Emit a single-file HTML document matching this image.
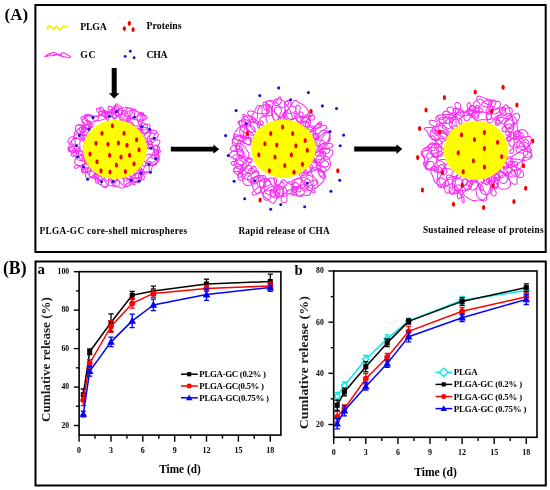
<!DOCTYPE html><html><head><meta charset="utf-8"><title>PLGA-GC core-shell microspheres</title><style>html,body{margin:0;padding:0;background:#fff;overflow:hidden;}svg{display:block;}</style></head><body>
<svg width="550" height="490" viewBox="0 0 550 490">
<rect width="550" height="490" fill="#fff"/>
<rect x="35.4" y="5" width="510.3" height="247" fill="none" stroke="#000" stroke-width="2"/>
<rect x="35.5" y="261.5" width="510.3" height="224" fill="none" stroke="#000" stroke-width="2"/>
<text x="4.6" y="20.2" font-family="'Liberation Serif', 'Times New Roman', serif" font-weight="bold" font-size="17.5" textLength="23.5" lengthAdjust="spacingAndGlyphs" >(A)</text>
<text x="3" y="274.2" font-family="'Liberation Serif', 'Times New Roman', serif" font-weight="bold" font-size="18" textLength="23.5" lengthAdjust="spacingAndGlyphs" >(B)</text>
<path d="M47.3 29.1 C48 27 49 26 49.9 26.1 C51 26.3 52.5 29 53.7 29.1 C54.8 29 55.5 26 56.4 26.1 C57.5 26.3 58.8 30 59.9 30 C61 30 62.2 26.6 63.4 26.5 L66.2 26.3" fill="none" stroke="#eef000" stroke-width="1.7" stroke-linecap="round" stroke-linejoin="round"/>
<text x="80.2" y="30.2" font-family="'Liberation Serif', 'Times New Roman', serif" font-weight="bold" font-size="9.8" textLength="26.6" lengthAdjust="spacing" >PLGA</text>
<path d="M44.5 57 C48 54 53 52 56 53 C58 54 55 56 52 55.5 C55 54.5 60 54 62 55.5 C60 53 63 52 66 54 C69 55.5 72 57 70 57.5 C66 57.5 61 56.5 58 55 C61 56 64 57.5 66 57 M44.5 57 C47 56.5 50 55.5 52 54.5" fill="none" stroke="#f832f2" stroke-width="1.1"/>
<text x="80.2" y="57.7" font-family="'Liberation Serif', 'Times New Roman', serif" font-weight="bold" font-size="9.8" textLength="15.3" lengthAdjust="spacing" >GC</text>
<ellipse cx="124.3" cy="28.6" rx="1.6" ry="2.4" fill="#f00000"/>
<ellipse cx="129.3" cy="23.5" rx="1.6" ry="2.4" fill="#f00000"/>
<ellipse cx="133.1" cy="29.7" rx="1.6" ry="2.4" fill="#f00000"/>
<text x="146.4" y="29.4" font-family="'Liberation Serif', 'Times New Roman', serif" font-weight="bold" font-size="9.8" textLength="35.2" lengthAdjust="spacing" >Proteins</text>
<circle cx="125.2" cy="56.4" r="1.45" fill="#1414d2"/>
<circle cx="130.3" cy="51.2" r="1.45" fill="#1414d2"/>
<circle cx="134.1" cy="57.7" r="1.45" fill="#1414d2"/>
<text x="146.4" y="57.7" font-family="'Liberation Serif', 'Times New Roman', serif" font-weight="bold" font-size="9.8" textLength="21.3" lengthAdjust="spacing" >CHA</text>
<path d="M111.7 68 H116.7 V93.2 H119.5 L114.2 98.4 L108.8 93.2 H111.7 Z" fill="#000"/>
<path d="M170.8 146.8 H213.4 V144.6 L219.2 149.2 L213.4 153.8 V151.6 H170.8 Z" fill="#000"/>
<path d="M354.2 146.5 H396.5 V144.2 L402.3 149 L396.5 153.9 V151.4 H354.2 Z" fill="#000"/>
<path d="M144.1 168.4l-.6 .8 -.6 .7 -.8 .7 -.9 .5 -.9 .1 -1-.1 -.8-.6 -.1-1 .4-.9 .8-.5 1-.1 .9 .5 .5 .8 0 1 -.4 .9 -.7 .7 -.9 .5 -1 .2 -.9 .4 -.8 .5 -.9 .5 -.9 .5 -.9 .4 -.9 .5 -.8 .5 -.9 .6 -.7 .7 -.3 .9 -.1 1 .2 .9 .6 .8 .9 .6 .9 .3 1 .2 1 .1 1 .3 1 .1 .9-.3 .7-.7 .4-.9 -.1-1 -.4-.9 -.8-.7 -.9-.3 -1 .1 -1 .3 -.9 .4 -.8 .6 -.8 .6 -.6 .8 -.5 .9 -.1 .9 .3 1 .7 .7 .7 .7 .9 .4 .8-.5 .1-1 -.5-.9 -.7-.7 -1-.2 -.9 0 -1 .5 -.7 .6 -.6 .8 -.3 1 -.4 .9 -.6 .8 -1 .2 -1 .1 -1-.2 -.9-.3 -.9-.4 -.8-.6 -.8-.7 -.6-.8 -.5-.8 -.7-.8 -.7-.7 -.7-.7 -.9-.5 -.8-.5 -.8-.7 -.7-.6 -.7-.8 -.4-.9 0-1 .5-.8 .8-.5 1 .3 .7 .7 .4 .9 .2 1 -.1 1 -.2 .9 -.5 .9 -.6 .8 -.7 .7 -.7 .7 -.8 .6 -1 .3 -1 0 -.9-.5 -.6-.8 -.1-.9 .3-1 .4-.9 .2-1 -.3-1 -.6-.7 -1-.1 -.9 .5 -.5 .8 -.1 1 .2 1 0 1 -.1 1 -.2 1 -.1 1 -.2 1 -.3 .9 -.4 .9 -.6 .8 -.9 .5 -1 .1 -.9-.3 -.9-.6 -.6-.8 -.6-.8 -.3-.9 -.2-1 -.4-.9 -.5-.9 -.4-.9 -.6-.9 -.7-.6 -.9-.5 -1-.2 -.9-.3 -.8-.6 -.4-.9 0-1 .3-1 .5-.8 .7-.8 .8-.5 1-.3 .9 0 1 .4 .7 .6 .7 .8 .2 .9 -.3 .9 -.9 .5 -1-.2 -.7-.7 -.2-1 .1-1 .3-.9 .4-.9 .5-.9 .9-.4 1 .2 .1 1 -.5 .8 -1 .3 -1 0 -.8-.5 -.6-.8 -.2-1 -.2-1 -.5-.9 -.8-.6 -.9-.4 -.9-.3 -1-.2 -.9-.4 -.9-.5 -.9-.4 -1-.3 -.9-.2 -1-.3 -.9-.3 -1-.4 -1-.2 -.9 0 -1 .3 -.9 .5 -.8 .6 -.8 .5 -.9 .5 -.8 .6 -.8 .6 -.9 .4 -1 .3 -1 .1 -.8-.6 .2-1 .7-.7 .9-.4 1-.2 1 .1 1 .3 .9 .4 .7 .6 .7 .7 .8 .6 .7 .7 .9 .6 .9 .4 1 0 .9-.4 .8-.6 .7-.7 .5-.9 .4-.9 .1-1 -.2-.9 -.5-.9 -.7-.7 -.8-.6 -.8-.6 -.7-.7 -.7-.8 -.5-.8 -.2-1 0-1 0-1 .1-1 .2-1 .1-1 0-1 -.6-.8 -.9-.3 -1 .1 -.9 .3 -1 .2 -1 0 -1-.2 -.9-.4 -.8-.6 -.7-.7 -.8-.7 -.8-.5 -.9-.4 -1-.4 -.9-.2 -1 0 -1 .4 -.6 .8 -.2 1 .2 .9 .7 .8 .9 .5 .9 .1 1-.3 1-.3 .9-.4 1-.2 .9-.2 1-.3 1-.3 .8-.5 .7-.7 .5-.9 .2-1 .1-1 -.3-.9 -.2-1 .1-1 .3-1 .3-.9 -.1-1 -.5-.9 -.7-.6 -1-.3 -1-.2 -1 .1 -.9 .2 -1 .3 -.9 .4 -.8 .5 -.5 .9 -.3 1 0 1 .4 .9 .7 .6 1 .2 .9-.3 .6-.8 .1-1 -.1-1 -.3-1 -.4-.9 -.2-1 -.1-1 0-1 .1-1 0-.9 .1-1 .3-1 .5-.8 .7-.7 .8-.7 .7-.7 .8-.6 .8-.7 .8-.6 .9-.4 .9-.1 1 .3 .6 .8 .3 .9 0 1 -.2 1 -.5 .9 -.8 .6 -.9 .4 -.9 .3 -1 .1 -1-.4 -.7-.6 -.7-.8 -.5-.8 -.5-.9 -.3-.9 -.1-1 .1-1 .4-.9 .8-.6 .9-.3 1-.1 1 .1 1 .1 1 .3 .9 .4 1 .1 1-.2 .9-.3 .9-.5 .8-.6 .8-.6 .9-.5 .9-.3 1-.3 1 .1 .8 .6 .4 .9 .1 .9 -.2 1 -.4 .9 -.8 .5 -1 .3 -1 .1 -1 .1 -1-.2 -.9-.4 -.7-.7 -.6-.8 -.6-.8 -.6-.8 -.6-.8 -.7-.8 -.4-.8 -.3-1 .1-1 .5-.9 .7-.7 .8-.5 .8-.6 .8-.7 .9-.4 .9-.3 1-.3 1 0 1 .1 1 0 1 .1 1 .2 1 .2 .9 .2 1 .1 1-.2 .8-.6 .5-.8 .1-1 -.3-.9 -.6-.8 -.7-.8 -.5-.8 -.4-1 0-1 .7-.6 .9 0 1 .3 .9 .3 1 .4 .9 .4 .8 .5 .9 .5 .8 .6 .6 .8 .4 .9 0 1 -.6 .8 -.9 .4 -1-.1 -.7-.7 -.2-1 .2-.9 .7-.7 .9-.4 1 .1 1 .2 .9 .4 .9 .4 1 .2 1 .2 .9 .4 1 .3 1 .1 .9-.4 .5-.8 .3-.9 .2-1 .3-1 .1-1 .2-1 .1-1 .2-.9 .1-1 .7-.7 1 .1 .8 .6 .8 .5 .8 .7 .8 .5 .8 .6 .7 .8 .5 .9 .3 .9 .4 .9 .2 1 .1 1 -.2 1 -.5 .8 -.9 .5 -1 .1 -.9-.3 -.9-.6 -.6-.7 -.5-.9 -.1-1 .4-.9 .7-.7 1-.1 1 .3 .7 .7 .4 .9 .2 1 -.1 1 -.3 .9 -.4 .9 -.6 .8 -.6 .8 -.4 1 0 .9 .6 .8 .9 .3 1-.2 1-.3 1-.2 .9-.2 1-.2 .9-.4 1-.3 1-.1 1 0 .9 .3 1 .1 1-.2 .8-.6 .4-.9 .3-1 .1-.9 .1-1 .2-1 0-1 0-1 -.3-1 -.6-.7 -1-.1 -.9 .3 -.8 .6 -.6 .8 -.5 .9 -.2 1 -.1 1 0 1 .2 .9 .3 1 .2 1 .1 1 -.2 .9 -.4 .9 -.6 .9 -.6 .8 -.8 .5 -1-.1 -1-.2 -.7-.5 .2-.9 .8-.7 .9-.2 1 .3 .9 .4 .9 .5 .9 .4 .8 .6 .8 .6 .6 .8 .3 1 .2 .9 .4 .9 .7 .8 .8 .6 .9 .4 .9 .4 .8 .6 .7 .7 .7 .8 .7 .6 .9 .6 .8 .4 1 .4 .9 .4 1 .1 1-.2 .8-.5 .6-.8 .6-.8 .5-.9 .6-.8 .6-.8 .4-.9 .2-.9 -.1-1 -.5-.9 -.8-.6 -1-.2 -.9 .1 -1 .3 -.9 .3 -.9 .5 -.9 .5 -.9 .4 -.8 .6 -.8 .6 -.7 .7 -.5 .9 -.2 1 0 1 .5 .8 .7 .8 .7 .7 .8 .6 .9 .3 1 .1 1-.3 .8-.6 .6-.8 .6-.8 .7-.7 1-.3 1 .2 .9 .4 .7 .7 .2 .9 -.2 1 -.6 .8 -.7 .7 -.8 .6 -.8 .7 -.6 .8 -.3 .9 -.1 1 .1 1 .1 1 .2 1 .2 1 .2 1 .2 .9 .3 1 .5 .8 .8 .6 1 .2 .9-.4 .6-.8 .2-1 -.1-1 -.1-1 -.4-.9 -.6-.8 -.9-.4 -1-.2 -1 .1 -.9 .5 -.8 .5 -.7 .8 -.4 .9 -.4 .9 -.1 1 .2 1 .5 .8 .8 .6 1 .3 1 .1 1-.2 .9-.4 .8-.6 .7-.7 .8-.6 .9-.4 1-.3 1-.1 .9 .4 .7 .8 .4 .8 .3 1 0 1 -.1 1 -.4 .9 -.5 .9 -.6 .8 -.6 .8 -.8 .6 -.8 .6 -.8 .5 -.9 .5 -1 .3 -.9 .3 -.9 .5 -.8 .6 -.7 .7 -.8 .7 -.4 .8 -.2 1 .2 1 .4 .9 .5 .8 .6 .8 .7 .8 .8 .6 1 0 .8-.5 .4-.9 -.3-1 -.5-.9 -.7-.6 -.9-.4 -1-.2 -.9 .4 -.8 .6 -.7 .8 -.5 .8 -.5 .9 -.4 .9 -.4 .9 -.4 1 -.4 .9 -.5 .8 -.5 .9 -.4 .9 -.1 1 .2 1 .5 .8 .9 .5 .9-.3 .5-.8 -.2-1 -.7-.7 -.8-.5 -1-.3 -1-.2 -.9-.4 -.8-.6 -.7-.7 -.7-.7 -.8-.6 -1-.2 -.9 .4 -.5 .8 0 1 .3 1 .6 .8 .8 .6 .9 .4 .9 .3 1 .3 .9 .4 .9 .5 .9 .5 .8 .6 .6 .8 .4 .9 .2 1 -.3 .9 -.8 .7 -.9 .4 -.9 .3 -1 .2 -1 .1 -1 .2 -.9 .3 -1 .3 -.9 .3 -1-.1 -1-.2 -.9-.4 -.9-.4 -1-.3 -1 0 -1-.2 -.9-.3 -.9-.4 -.8-.6 -.9-.5 -.9-.5 -.6-.8 -.4-.9 .2-1 .4-.9 .6-.8 .7-.7 1-.3 1 0 .9-.1 1-.1 1-.1 1 0 1 .1 1 .4 .8 .4 .8 .7 .4 .9 .1 1 -.2 1 -.4 .8 -.7 .8 -.8 .6 -1 .2 -1 0 -1 .2 -.9 .5 -.9 .4 -.8 .6 -.9 .4 -1 .2 -.9-.2 -.9-.6 -.7-.7 -.6-.8 -.8-.6 -.9-.4 -.9-.4 -.9-.5 -.8-.5 -.9-.6 -.7-.7 -.6-.8 -.8-.6 -1 0 -.9 .3 -.9 .6 -.7 .6 -.7 .7 -.7 .8 -.3 .9 .3 1 .6 .7 .9 .5 .9 .3 1 .4 .7 .7 .3 1 .2 .9 .1 1 -.2 1 -.6 .8 -.9 .4 -1-.1 -1-.1 -.9-.4 -1-.2 -.9-.3 -.9-.4 -.8-.6 -.7-.8 -.6-.8 -.5-.8 -.6-.9 -.6-.7 -.8-.7 -.8-.6 -.6-.8 -.5-.8 -.5-.9 -.5-.9 -.2-.9 .1-1 .1-1 .2-1 .3-1 -.3-.7 -.9 .3 -.7 .8 -.6 .8 -.4 .9 -.6 .8 -.7 .7 -.8 .5 -.9 .5 -.8 .7 -.2 .9 .1 1 .3 1 .6 .7 .8 .5 1 .2 1-.1 1-.2 1-.1 1 0 1-.2 .9-.3 .8-.6 .7-.8 .5-.8 .5-.9 .4-.9 .1-1 0-1 -.6-.8 -.9-.5 -.9-.1 -1-.2 -1 .1 -1 .1 -1-.1 -1-.2 -.9-.3 -1-.4 -.9-.2 -1 0 -1 .2 -1 .3 -1 .1 -1 0 -1 .1 -1 .1 -.9 .4 -.9 .4 -.9 .4 -1 .1 -1 0 -1-.2 -.9-.5 -.5-.8 -.1-1 .1-1 .4-.9 .5-.9 .4-.9 .4-.9 .4-.9 .6-.9 .6-.7 .7-.8 .7-.7 .9-.4 1-.2 .9 .3 .4 .9 -.1 1 -.6 .8 -.9 .3 -.9-.4 -.7-.8 -.2-.9 .1-1 .2-1 .1-1 0-1 -.3-1 -.5-.8 -.8-.6 -.9-.4 -1-.2 -1-.1 -1 0 -.9 .4 -.7 .7 -.2 1 .4 .9 .7 .6 1 .3 1-.3 .9-.4 .9-.4 .9-.3 1-.4 .8-.5 .4-.9 -.4-.9 -.8-.5 -.9-.4 -.9-.4 -.9-.5 -.7-.7 -.7-.7 -.4-.9 -.5-.9 -.5-.9 -.6-.7 -.7-.8 -.8-.6 -1-.3 -.9-.2 -1-.2 -1-.1 -1 0 -1 .1 -1 .2 -.9 .4 -.6 .8 -.2 1 .2 1 .4 .9 .7 .8 .8 .5 .9 .3 1-.2 .8-.6 .5-.9 .1-1 -.1-.9 -.4-.9 -.6-.8 -.7-.7 -.8-.6 -.9-.6 -.8-.5 -.9-.5 -.8-.5 -.8-.7 -.3-.9 .1-1 .4-1 .5-.8 .6-.8 .8-.6 .9-.4 .9-.4 .9-.4 .8-.6 .8-.6 .8-.6 .9-.4 1-.3 1-.1 1 0 1 0 1 .1 1 0 .9 .2 1 .3 .9 .5 .9 .5 .8 .5 .1 1 -.7 .7 -.9 .5 -.9 .3 -1 .3 -1 .1 -1-.3 -.8-.4 -.7-.7 -.4-.9 -.2-1 .1-1 .5-.9 .5-.9 .4-.9 .5-.8 .5-.9 .7-.7 .9-.5 1-.2 1 .1 1 0 1-.1 .9-.4 .5-.9 0-.9 -.6-.9 -.8-.6 -1-.1 -.9 .2 -1 .3 -.8 .6 -.6 .8 -.6 .8 .1 1 .7 .7 .9 .5 1 .1 1-.1 .9-.4 .8-.5 .9-.6 .8-.5 .6-.8 .4-.9 .2-1 .1-1 -.3-1 -.6-.8 -.9-.5 -.9-.4 -.9-.4 -.9-.5 -.8-.6 -.7-.6 -.7-.8 -.3-.9 .2-.9 .7-.7 .9-.4 1-.3 1 0 1 0 1 .2 .9 .5 .7 .7 .6 .8 .5 .8 .6 .8 .6 .8 .8 .6 .9 .5 1 .1 1-.1 .9-.2 1-.3 1-.3 .9-.3 1-.2 .9-.3 1-.3 .9-.3 1-.3 .9-.3 .9-.6 .5-.8 0-1 -.5-.9 -.7-.6 -.9-.5 -.9-.4 -.9-.3 -1-.4 -.9-.4 -1-.3 -.8-.4 -.7-.8 -.4-.9 -.3-.9 0-1 .7-.8 .9-.1 1 .3 .8 .6 .7 .7 .6 .8 .7 .7 .8 .5 1 .4 .9 .4 1 .2 1 .1 1-.1 .9-.4 .7-.7 .3-.9 -.1-1 -.3-1 -.6-.8 -.8-.5 -1-.1 -.9 .6 -.5 .8 .1 1 .6 .8 .8 .5 1 0 .9-.5 .7-.7 .4-.9 .6-.8 .6-.8 .9-.5 .9-.2 1 .2 .8 .6 .7 .7 .7 .7 .6 .8 .3 1 -.3 .9 -.7 .8 -.8 .5 -.9 .5 -.9 .3 -.9 .4 -.9 .5 -.8 .6 -.6 .8 -.2 1 .4 .9 .8 .6 .9 .3 1 0 .9-.5 .8-.6 .8-.6 .9-.5 .8-.6 .6-.8 .5-.8 .4-.9 .5-.9 .8-.6 1-.3 1 0 .9 .3 .9 .5 .6 .8 .4 .9 .3 .9 .3 1 .5 .9 .6 .8 .6 .8 .7 .7 .8 .5 1 .3 .9 .4 1 .3 1 0 1 0 1 .1 .9 .1 1 .1 1 0 1 0 1-.1 1-.1 1-.2 1-.3 .8-.5 .7-.7 .5-.9 -.3-.9 -.7-.6 -1-.4 -.9-.3 -1-.3 -1-.2 -1 0 -1 .2 -.9 .4 -.8 .5 -.9 .5 -.9 .5 -.9 .4 -1 .2 -1 .1 -.9 .1 -1 .2 -1 .3 -.9 .4 -.9 .4 -.9 .4 -.8 .6 -.8 .7 -.6 .8 -.8 .5 -1 .2 -1 .1 -1 .1 -1 .2 -.9 .3 -1 0 .1-.9 .7-.7 .9-.4 1-.2 1 0 .9 .3 1 .3 1 .2 1 .1 .9 .4 .9 .4 .8 .5 .9 .6 .8 .5 .9 .5 .8 .6 .9 .5 .9 .3 1 .1 1 .2 1 .2 1 .3 .9 .1 1 .1 1 .2 1 .3 1 .2 1 .1 1 .1 .9 .3 .8 .6 .6 .8 .6 .8 .5 .9 .6 .8 .4 .9 0 1 -.2 1 -.3 .9 -.2 1 .2 1 .6 .8 1 .2 1-.2 .8-.5 .7-.8 .4-.9 .4-.9 .5-.9 .5-.8 .8-.7 1-.1 .8 .5 .3 1 -.1 1 -.3 .9 -.4 1 -.6 .7 -.8 .6 -.9 .4 -1 .2 -1 .2 -1 .3 -.9 .3 -.9 .4 -.9 .4 -.8 .7 -.2 1 .4 .9 .5 .8 .8 .7 .9 .4 .9 .4 .9 .4 .7 .7 .5 .9 .2 .9 .1 1 0 1 0 1 0 1 .2 1 .6 .8 .9 .4 1-.2 .7-.6 .3-1 -.1-.9 -.7-.8 -.9-.3 -1 .2 -.9 .5 -.7 .6 -.7 .7 -.6 .8 -.7 .8 -.6 .7 -.4 1 .1 .9 .5 .9 .9 .3 1 0 1-.2 1-.3 1 0 1 0 .9-.2 .9-.5 .1-.9 -.5-.8 -1-.4 -1 .2 -.8 .5 -.6 .8 -.2 1 .2 1 .5 .9 .6 .7 .8 .7 .5 .8 -.3 1 -.7 .7 -.8 .6 -.8 .6 -.8 .6 -.9 .4 -1 .2 -1-.1 -1-.2 -.8-.5 -.8-.6 -.8-.7 -.7-.6 -.9-.5 -.9-.4 -1-.3 -1 0 -.9 .4 -.7 .7 -.2 .9 .2 1 .7 .8 .8 .5 1 .3 1-.2 .9-.3 .9-.4 1 .1 .8 .6 .3 1 0 1 0 1 -.2 1 -.6 .8 -.9 .5 -.9 .3 -1 .1 -1 .1 -1 .1 -.9 .4 -.9 .5 -.7 .7 -.5 .9 -.2 1 -.2 1 -.3 .9 -.6 .7 -.9 .5 -1 .3 -1-.1 -.9-.4 -.9-.5 -.9-.3 -.9-.3 -1-.4 -.8-.6 -.8-.6 -.6-.8 -.3-.9 -.2-1 -.3-1 -.4-.9 -.9-.5 -.9 .2 -.2 1 .4 .9 .8 .6 1 0 .9-.3 .8-.7 .6-.7 .7-.8 .7-.7 .8-.6 .9-.4 1-.2 1 .2 .9 .3 .9 .4 .8 .6 .7 .7 .6 .9 .3 .9 .2 1 .2 1 .2 .9 .1 1 .2 1 0 1 0 1 -.5 .9 -.9 .5 -.9 .3 -1 .1 -1 .1 -1 .2 -1 .1 -1 .3 -.8 .5 -.8 .6 -.8 .7 -.7 .6 -.8 .6 -1 .4 -.9 .3 -1 0 -1-.2 -.8-.5 -.7-.8 -.6-.8 -.3-1 0-1 .2-.9 .2-1 -.1-1 -.4-.9 -.6-.8 -.8-.6 -1-.2 -1 0 -1 .2 -.9 .2 -1 0 -1-.2 -.9-.4 -.9-.6 -.8-.4 -1-.1 -1 .2 -.9 .4 -.9 .6 -.6 .7 -.5 .9 -.3 .9 0 1 .1 1 .1 1 -.1 1 -.3 1 -.5 .8 -.7 .8 -.6 .7 -.7 .7 -1 .2 -.9-.3 -.9-.5 -.9-.5 -.9-.4 -.9-.4 -.9-.5 -.7-.6 -.7-.8 -.4-.9 0-1 .2-1 .3-.9 .4-1 .3-.9 .2-1 -.2-1 -.4-.9 -.5-.9 -.6-.8 -.6-.7 -.7-.8 -.4-.9 0-1 .2-1 .1-1 -.4-.9 -.9 .3 -.3 .9 -.1 1 .1 1 0 1 -.2 1 0 1 0 1 -.2 .9 -.6 .9 -.8 .6 -.8 .5 -.9 .4 -1-.4 -.4-.8 .1-1 .3-1 .3-.9 .4-.9 .5-.9 .4-.9 .3-1 .3-.9 .7-.8 .8-.5 1-.1 .8 .5 .5 .9 .2 1 0 1 -.2 1 -.2 .9 -.3 1 -.3 .9 -.2 1 -.2 1 -.3 .9 -.6 .9 -.8 .5 -1-.1 -.9-.5 -.7-.8 -.6-.8 -.5-.8 -.4-.9 -.5-.9 -.8-.6 -.9-.3 -1-.2 -1-.2 -.9-.3 -.9-.6 -.5-.8 0-.9 .5-.9 .8-.5 1-.3 1 .1 1 .2 .9 .1 1 0 1-.1 1-.1 1-.3 .9-.4 .8-.6 .8-.6 1-.2 1-.1 1 .1 -.4 .8 -.9 .3 -1-.1 -.9-.3 -.9-.6 -.8-.6 -.7-.7 -.6-.8 -.8-.6 -.9-.3 -1-.2 -1-.2 -.9-.3 -1-.4 -.9-.4 -.9-.4 -1-.2 -1-.2 -.9-.2 -1-.2 -.9-.4 -.8-.6 -.7-.7 -.6-.8 -.7-.8 -.8-.6 -.8-.6 -.7-.7 -.4-.9 0-1 .4-.9 .8-.5 1-.2 .9 .2 .7 .8 0 .9 -.4 .9 -.7 .8 -.8 .6 -.9 .4 -1 .1 -.9-.3 -.8-.6 -.3-1 .4-.9 .7-.7 1-.3 1 0 .9 .3 .9 .4 1 .3 1-.2 .6-.8 -.1-.9 -.6-.8 -.9-.5 -1-.3 -1 0 -.9 .1 -1 .2 -1 .3 -1 .2 -1 0 -.9-.2 -.8-.6 -.4-.9 -.1-1 .3-.9 .5-.9 .5-.9 .3-.9 .3-1 .4-.9 .6-.8 .6-.8 .6-.9 .6-.7 .6-.8 .8-.7 .9-.4 .9-.1 1 .2 .9 .5 .7 .7 .8 .6 .9 .4 1 .1 1-.4 .7-.6 .6-.8 .2-1 0-1 -.2-1 -.1-1 -.4-.9 -.4-.9 -.4-1 -.3-.9 -.2-1 -.1-1 .3-.9 .7-.8 .9-.3 1 .1 .8 .6 .5 .9 .3 1 .1 .9 -.1 1 -.5 .9 -.8 .5 -1 .2 -1 0 -1-.3 -.8-.5 -.8-.7 -.4-.9 -.1-1 .2-.9 .7-.7 .9-.4 1 0 1 .1 1 .4 .9 .3 1 .3 1 .1 1 0 .9-.2 1-.3 .7-.7 .4-.9 0-1 -.6-.8 -.8-.5 -1-.1 -1 .1 -1 .1 -1-.1 -.9-.4 -.8-.6 -.8-.7 -.7-.7 -.5-.8 -.6-.9 -.4-.8 -.3-1 .3-.9 .9-.4 1 0 1 .3 .9 .4 .8 .5 .7 .8 .7 .7 .6 .8 .9 .5 .9 .4 .9 .4 1 .3 1 .2 1 0 .9-.1 1-.4 .9-.5 .7-.6 .6-.8 .5-.9 .4-.9 .2-1 .3-.9 .6-.8 .8-.6 .9-.5 .8-.6 .8-.6 .8-.6 .9-.4 .9-.4 .9-.4 1-.1 .9 .3 .7 .8 .3 .9 .1 1 -.3 1 -.5 .8 -.8 .6 -1 .3 -1 0 -.9-.4 -.4-.9 .2-1 .7-.6 1-.1 .9 .5 .4 .9 .1 1 -.4 .9 -.7 .7 -1 .2 -.9-.4 -.4-.9 -.1-1 .3-.9 .6-.9 .6-.7 .9-.5 .9-.4 1-.2 1-.3 .9-.4 .8-.5 .7-.7 .7-.8 .6-.7 .7-.8 .8-.6 .9-.5 1-.1 .9 .3 .7 .6 .4 1 .1 1 0 1 0 1 0 1 -.2 .9 -.2 1 -.3 1 -.7 .7 -.9 .3 -.9-.2 -.6-.8 -.3-1 .1-1 .3-.9 .5-.9 .6-.8 .7-.8 .7-.6 .9-.5 1-.2 1-.2 1-.1 .9-.2 1-.1 1-.2 1-.1 1-.1 1 0 1 .2 .9 .3 1 .4 .8 .5 .8 .7 .5 .8 .2 1 -.1 1 -.3 .9 -.5 .9 -.6 .8 -.7 .7 -.9 .5 -1 .3 -1 0 -1 0 -.9-.4 -.7-.6 -.4-1 .1-.9 .5-.9 .7-.7 .8-.5 .9-.5 1-.2 1 0 1 0 1-.3 .8-.5 .8-.6 .9-.4 1 .2 .7 .7 .7 .7 .8 .7 .9 .4 .9 .3 1 .1 1 .2 .9 .5 .8 .6 .7 .7 .6 .8 .5 .8 .4 .9 .3 1 -.1 1 -.4 .9 -.7 .7 -.8 .5 -.8 .7 -.6 .8 -.3 .9 -.2 1 -.1 1 -.3 1 -.2 .9 -.2 1 .1 1 .1 1 -.2 1 -.5 .9 -.6 .8 -.6 .7 0 .9 1 0 .7-.6 .5-.9 .3-.9 .1-1 0-1 -.2-1 -.2-1 -.3-.9 -.3-1 -.3-1 0-.9 .5-.9 .9-.4 1 .2 .9 .2 1 .3 .9 .4 .8 .5 .7 .8 .5 .9 .3 .9 -.2 1 -.6 .8 -.8 .6 -.9 .2 -1 0 -1-.2 -1-.3 -.9-.4 -.9-.4 -1-.1 -1 .2 -.9 .4 -.9 .4 -1 .2 -.9 0 -1-.3 .5-.8 .9-.3 1 .1 1 .1 1 .2 .9 .5 .6 .8 .2 1 .2 1 .4 .9 .5 .8 .7 .8 .6 .8 .7 .7 .7 .7 .6 .7 .7 .8 .9 .5 .9 .3 1 .2 1 0 1 0 .9 .5 .7 .7 .3 .9 .1 1 0 1 0 1 0 1 .2 1 .3 1 .6 .8 .7 .6 1 .4 .9 .3 .9 .4 1 .3 1 .1 .8-.5 .6-.8 -.1-1 -.4-.9 -.6-.8 -.8-.6 -.9-.3 -1 0 -1 .3 -.8 .6 -.4 .9 -.1 1 -.1 1 0 1 .1 1 .5 .9 .7 .6 .9 .4 1 .1 1-.1 1-.2 .9-.3 1-.3 .4-.7 -.7-.6 -1-.1 -.9 .5 -.7 .7 -.3 1 0 1 .2 1 .4 .9 .5 .9 .6 .8 .3 .9 -.1 1 -.4 .9 -.5 .9 -.6 .8 -.9 .5 -.8 .5 -.9 .5 -.8 .6 -.7 .7 -.7 .7 -.5 .9 -.4 .9 -.2 1 -.2 1 -.2 1 -.4 .9 -.7 .7 -.8 .5 -.9 .4 -1 .3 -1 .1 -1-.1 -.9-.3 -1-.4 -.9-.4 -.9-.4 -1-.2 -1-.2 -.9-.2 -1-.4 -.8-.6 -.6-.8 -.2-.9 .2-1 .7-.7 1-.2 1 .1 .9 .4 .7 .7 .4 .9 .1 1 -.2 1 -.5 .9 -.5 .9 -.5 .8 -.6 .8 -.5 .9 -.3 .9 0 1 .2 1 .6 .8 .8 .6 1 0 .8-.6 .3-.9 0-1 -.2-1 -.6-.8 -.8-.7 -.8-.5 -1-.2 -1-.1 -1 0 -1 .1 -.9 .4 -.8 .5 -.7 .8 -.6 .8 -.6 .8 -.6 .8 -.8 .6 -.9 .3 -1 .1 -1-.2 -1-.3 -.9-.4 -.8-.5 -.9-.6 -.9-.4 -.8-.5 -.6-.9 -.3-.9 .4-.9 .8-.5 1 .2 .9 .5 .7 .7 .7 .7 .9 .5 .9 .4 .9 .4 1 .3 .8 .6 .6 .7 .3 1 -.2 1 -.4 .9 -.6 .8 -.6 .8 -.7 .7 -.9 .5 -.9 .4 -.7 .7 -.4 .9 -.3 1 -.4 .9 -.7 .7 -.9 .3 -1 .1 -1-.1 -1-.1 -1-.3 -.9-.4 -1-.3 -.9-.2 -1-.3 -1-.1 -1-.3 -.7-.6 -.6-.8 -.4-.9 0-1 .5-.9 .7-.7 .9-.5 .9-.3 1-.3 1-.1 .9 .2 .9 .5 .4 .9 .1 1 -.1 1 -.2 1 -.5 .9 -.7 .6 -1 .3 -1-.1 -.9-.3 -.9-.4 -.9-.5 -.8-.7 -.6-.8 -.3-.9 -.3-1 -.2-.9 -.2-1 -.2-1 -.1-1 0-1 .1-1 .3-.9 .3-1 .8-.3 .4 .9 -.2 .9 -.7 .8 -.7 .7 -.6 .7 -.4 .9 -.4 1 -.6 .8 -.7 .6 -1 .2 -.9-.3 -.7-.8 -.5-.8 -.3-1 -.5-.8 -.5-.9 -.7-.8 -.7-.6 -1-.4 -.9-.2 -1 0 -1 .2 -1 .3 -.8 .6 -.5 .8 -.2 1 -.2 1 -.1 1 -.1 1 .1 1 .1 1 .4 .9 1 .2 .9-.5 .5-.8 .3-1 .1-.9 -.2-1 -.6-.9 -.7-.7 -.8-.5 -1-.3 -1 0 -1 .1 -1 .1 -1 .1 -.9 .2 -1 .4 -.9 .4 -1 .2 -.9-.1 -.9-.5 -.5-.9 -.1-1 .2-1 .3-.9 .3-1 .4-.9 .5-.9 .5-.8 .3-1 -.1-.9 -.8-.6 -1 0 -.9 .5 -.5 .8 .1 1 .5 .9 .7 .7 1 .3 .9 0 .9-.4 .7-.8 .6-.8 .6-.8 .7-.7 .7-.7 .8-.6 .6-.8 -.1-1 -.6-.8 -.9-.4 -1-.4 -.9-.3 -.9-.4 -.8-.6 -.7-.7 -.7-.8 -.6-.7 -.7-.8 -.8-.6 -.7-.7 -.7-.7 -.7-.7 -.8-.6 -1-.3 -1-.1 -.9 .2 -.9 .5 -.8 .6 -.7 .6 -.8 .7 -.4 .9 -.4 1 -.2 .9 -.1 1 .3 1 .7 .8 .8 .5 .9 .5 .9 .3 1 .2 1 .1 1 .1 1-.2 .9-.3 .9-.5 .6-.8 .2-1 -.2-.9 -.6-.8 -.9-.5 -.9-.5 -.9-.4 -.8-.6 -.7-.7 -.5-.8 -.4-.9 -.3-1 -.2-1 0-1 .1-1 .4-.9 .4-.9 .4-.9 0-1 -.5-.8 -.9-.4 -1 .3 -.8 .5 -.6 .8 -.5 .9 0 1 .5 .9 .8 .5 .9 .4 1 .3 .9 .3 1 .3 .9 .3 1 .1 1-.3 .8-.6 .7-.7 .1-1 -.3-.9 -.5-.9 -.4-.9 -.3-.9 0-1 .2-1 .3-1 .1-1 0-1 -.1-1 -.1-1 .2-.9 .3-1 .8-.6 .9-.5 .3-.9 -.4-.9 -.7-.7 -1-.1 -1 .1 -.9 .5 -.7 .7 -.5 .9 -.2 .9 .4 .9 .8 .7 1 0 .7-.7 .3-.9 -.3-1 -.6-.8 -.5-.9 -.3-.9 .1-1 .3-1 .6-.8 .6-.8 .5-.8 .5-.9 .3-1 -.2-.9 -.6-.9 -.6-.7 -.8-.6 -.8-.6 -1-.3 -1-.1 -1-.1 -1 .1 -.9 .3 -.9 .4 -.7 .7 -.4 1 0 1 -.1 1 .1 1 .3 .9 .5 .9 .8 .6 .8 .5 .9 .6 .8 .5 .8 .6 .9 .4 .9 .4 1 .3 1 0 .9-.4 .8-.6 .6-.8 .5-.9 .7-.7 .6-.8 .7-.7 .4-.9 .3-1 .1-1 -.1-.9 -.2-1 -.4-1 -.4-.9 -.5-.8 -.6-.8 -.8-.7 -.7-.7 -.6-.8 -.7-.7 -.5-.9 -.1-1 0-1 0-1 .6-.8 .9-.4 .9-.2 1-.1 1 .2 1 .2 .9 .3 1 .3 .9 .3 1 .3 1 .1 1 0 1 0 1 0 1-.1 .9-.4 1-.2 1 0 .9 .3 .9 .5 .8 .7 .7 .6 .7 .8 .7 .7 .6 .8 .7 .6 .9 .1 .5-.9 .1-1 0-1 -.2-1 -.4-.9 -.5-.8 -.7-.8 -.8-.6 -.8-.6 -.9-.5 -.8-.5 -.9-.4 -1-.2 -1-.1 -1 .3 -.7 .7 -.1 1 .4 .9 .7 .8 .8 .6 .9 .3 .9 .4 1 .2 1-.2 .8-.5 .7-.7 .7-.8 .7-.6 .9-.5 1-.3 1-.1 .9-.2 1-.1 1 0 1 .3 .8 .6 .7 .7 .5 .9 .2 .9 -.2 1 -.4 .9 -.4 .9 -.8 .6 -1-.1 -.8-.6 -.7-.7 -.5-.9 -.3-1 0-1 .1-1 .2-.9 .3-1 .4-.9 .5-.9 .6-.8 .8-.5 1-.1 .9 .5 .6 .7 .7 .8 .5 .9 .3 .9 .1 1 -.2 1 -.1 1 .2 .9 .6 .9 .7 .6 1 .3 1 0 .9-.4 .9-.4 .8-.5 .8-.7 .6-.8 .3-.9 .1-1 -.2-1 -.1-1 0-1 .4-.9 .6-.8 .9-.5 1-.2 1-.2 .9 .2 .9 .6 .8 .6 .8 .4 1 .4 .9 .4 .9 .4 .9 .6 .7 .6 .8 .6 .7 .7 .7 .7 .7 .8 .6 .8 .9 .3 .9-.4 .4-.9 -.3-.9 -.9-.5 -1-.1 -.9 .3 -.9 .5 -.8 .6 -.6 .8 -.5 .9 -.3 .9 -.1 1 .1 1 .2 1 .4 .9 .8 .5 1 .2 1-.2 .8-.5 .7-.7 .6-.9 .2-.9 .1-1 .1-1 .2-1 .3-1 .2-.9 -.3-.9 -1 .2 -.7 .7 -.4 .9 -.2 1 -.1 1 -.1 1 -.2 1 -.4 .9 -.7 .7 -.6 .8 -.5 .8 -.3 1 .1 1 .5 .8 .7 .7 .7 .7 .7 .7 .6 .8 .5 .9 .4 .9 .2 1 .2 1 .2 .9 .5 .9 .8 .5 1 .1 1-.2 1-.3 .8-.6 .8-.6 .7-.7 .8-.5 .9-.5 1-.2 1 0 1 .1 1 .2 .9 .5 .5 .8 -.1 1 -.6 .8 -.9 .3 -1-.1 -.9-.5 -.9-.5 -.8-.5 -1-.2 -1 0 -1 .2 -.9 .5 -.9 .5 -.8 .5 -.7 .7 -.6 .8 -.5 .9 -.4 .9 -.2 1 .4 .9 .7 .8 .7 .6 .9 .6 .7 .7 .7 .7 .8 .6 .5 .8 .1 1 -.1 1 -.3 1 -.6 .8 -.8 .6 -.9 .2 -.9-.5 -.4-.9 .4-.8 .8-.6 .9-.6 .8-.5 1-.3 1 0 1-.2 .9-.4 .8-.6 .6-.8 .6-.8 .8-.6 .9-.5 .9-.3 1-.2 1 .2 .9 .5 .6 .7 .1 1 -.4 1 -.4 .9 -.5 .8 -.5 .9 -.5 .9 -.2 1 .1 .9 .3 1 .4 .9 .2 1 .2 1 .2 1 0 1 -.1 1 -.2 .9 -.3 1 -.5 .9 -.5 .8 -.6 .9 -.6 .7 -.9 .6 -.9 .4 -.9 .3 -1 .3 -.9 .4 -.9 .4 -.9 .4 -1 .3 -1 0 -.9-.2 -.9-.4 -.7-.7 -.6-.9 -.3-.9 -.2-1 0-1 .3-.9 .6-.9 .7-.7 .7-.7 .7-.6 .9-.6 1-.1 1 .1 1 .1 .9 .2 1 .2 .9 .5 .8 .6 .8 .5 .9 .5 .8 .6 .8 .6 .5 .9 -.1 1 -.3 .9 -.5 .9 -.4 .9 -.4 .9 -.5 .9 -.4 .9" fill="none" stroke="#f832f2" stroke-width="1.05" stroke-linejoin="round"/>
<ellipse cx="115" cy="149.5" rx="32" ry="29.5" fill="#ffff00"/>
<ellipse cx="112.4" cy="125.7" rx="1.6" ry="2.5" fill="#f00000"/>
<ellipse cx="102" cy="133.3" rx="1.6" ry="2.5" fill="#f00000"/>
<ellipse cx="124" cy="133.3" rx="1.6" ry="2.5" fill="#f00000"/>
<ellipse cx="136.6" cy="139.7" rx="1.6" ry="2.5" fill="#f00000"/>
<ellipse cx="96" cy="143.3" rx="1.6" ry="2.5" fill="#f00000"/>
<ellipse cx="108" cy="144.3" rx="1.6" ry="2.5" fill="#f00000"/>
<ellipse cx="118.4" cy="142.9" rx="1.6" ry="2.5" fill="#f00000"/>
<ellipse cx="127" cy="145.3" rx="1.6" ry="2.5" fill="#f00000"/>
<ellipse cx="139" cy="149.7" rx="1.6" ry="2.5" fill="#f00000"/>
<ellipse cx="90" cy="153.9" rx="1.6" ry="2.5" fill="#f00000"/>
<ellipse cx="109.6" cy="155.3" rx="1.6" ry="2.5" fill="#f00000"/>
<ellipse cx="121" cy="156.9" rx="1.6" ry="2.5" fill="#f00000"/>
<ellipse cx="129.6" cy="155.3" rx="1.6" ry="2.5" fill="#f00000"/>
<ellipse cx="97" cy="161.7" rx="1.6" ry="2.5" fill="#f00000"/>
<ellipse cx="116.4" cy="164.9" rx="1.6" ry="2.5" fill="#f00000"/>
<ellipse cx="134" cy="163.7" rx="1.6" ry="2.5" fill="#f00000"/>
<ellipse cx="101" cy="170.7" rx="1.6" ry="2.5" fill="#f00000"/>
<ellipse cx="110" cy="171.9" rx="1.6" ry="2.5" fill="#f00000"/>
<ellipse cx="125.4" cy="171.5" rx="1.6" ry="2.5" fill="#f00000"/>
<circle cx="116.4" cy="111.6" r="1.55" fill="#1414d2"/>
<circle cx="109.6" cy="116.2" r="1.55" fill="#1414d2"/>
<circle cx="134.4" cy="117.2" r="1.55" fill="#1414d2"/>
<circle cx="93" cy="117.6" r="1.55" fill="#1414d2"/>
<circle cx="142" cy="126.8" r="1.55" fill="#1414d2"/>
<circle cx="149.6" cy="129.2" r="1.55" fill="#1414d2"/>
<circle cx="89" cy="129.2" r="1.55" fill="#1414d2"/>
<circle cx="79.4" cy="135.6" r="1.55" fill="#1414d2"/>
<circle cx="154.4" cy="138.2" r="1.55" fill="#1414d2"/>
<circle cx="76.4" cy="145.6" r="1.55" fill="#1414d2"/>
<circle cx="151" cy="148.2" r="1.55" fill="#1414d2"/>
<circle cx="77.6" cy="156.8" r="1.55" fill="#1414d2"/>
<circle cx="155.6" cy="158.8" r="1.55" fill="#1414d2"/>
<circle cx="83.6" cy="166.8" r="1.55" fill="#1414d2"/>
<circle cx="149" cy="164.2" r="1.55" fill="#1414d2"/>
<circle cx="150.4" cy="172.2" r="1.55" fill="#1414d2"/>
<circle cx="141" cy="173.2" r="1.55" fill="#1414d2"/>
<circle cx="87.6" cy="179.2" r="1.55" fill="#1414d2"/>
<circle cx="101.6" cy="181.6" r="1.55" fill="#1414d2"/>
<circle cx="113" cy="181.6" r="1.55" fill="#1414d2"/>
<circle cx="131" cy="180.2" r="1.55" fill="#1414d2"/>
<circle cx="139" cy="181.2" r="1.55" fill="#1414d2"/>
<path d="M262.4 187.3l-1-.3 -.9-.3 -1 .1 -1 .3 -.8 .5 -.8 .7 -.7 .6 -.8 .7 -.7 .7 -.8 .6 -.8 .6 -.7 .8 -.3 .9 0 1 .7 .7 1 .2 1-.1 .9-.3 .9-.4 .9-.5 .8-.5 .7-.7 .8-.7 .6-.8 .5-.9 .5-.8 .5-.9 .5-.9 .4-.9 .4-.9 .3-.9 .2-1 .2-1 .2-1 .3-.9 .1-1 -.1-1 -.4-1 -.6-.7 -.8-.7 -.8-.5 -.9-.4 -1-.3 -1 0 -1 .2 -.9 .1 -1 .4 -.9 .5 -.7 .7 -.5 .8 -.4 .9 -.3 1 -.3 .9 -.3 1 -.2 1 -.4 .9 -.6 .8 -.9 .5 -.9 .4 -1 .1 -1 0 -1-.2 -.9-.3 -.9-.6 -.7-.7 -.5-.8 -.4-.9 -.2-1 -.2-1 -.2-1 -.2-.9 -.2-1 -.1-1 0-1 0-1 .2-1 .2-1 .4-.9 .3-.9 .3-1 .5-.9 .5-.8 .7-.7 .7-.7 .9-.6 .9-.3 1-.1 1 .2 .9 .4 .6 .8 .4 .9 -.1 1 -.3 1 -.4 .9 -.4 .9 -.5 .8 -.8 .6 -.9 .5 -1 .3 -1 .2 -.9 .2 -1 .2 -1 .1 -1-.1 -.9-.4 -.8-.6 -.5-.9 -.1-1 .3-.9 .5-.9 .6-.8 .5-.9 .6-.8 .5-.8 .5-.9 .2-1 -.1-1 -.4-.9 -.5-.9 -.8-.6 -.8-.5 -1-.3 -1-.1 -1 .2 -1 .2 -.9 .4 -.9 .4 -.7 .7 -.4 .9 -.1 1 .3 1 .5 .9 .6 .8 .7 .7 .8 .6 .9 .5 .9 .4 .9 .3 1 .1 1 .1 1-.1 1-.2 .9-.5 .6-.7 .4-.9 .3-1 .2-1 .1-1 0-1 -.1-1 -.4-.9 -.4-.9 -.5-.9 -.5-.8 -.5-.9 -.7-.7 -.7-.7 -.9-.5 -.9-.4 -.9-.4 -.9-.5 -.7-.7 -.6-.8 -.4-.9 -.1-1 0-1 0-1 0-1 -.5-.9 -.7-.7 -.9-.4 -1-.2 -1 .2 -.9 .4 -.8 .6 -.7 .7 -.2 .9 .3 1 .6 .8 .8 .6 .9 .4 .9 .3 1 .1 1-.1 1-.3 .8-.5 .8-.6 .7-.8 .3-.9 0-1 -.3-1 -.5-.8 -.7-.8 -.8-.6 -.9-.5 -.9-.4 -.9-.3 -.9-.4 -.7-.8 -.4-.9 -.1-1 .4-.9 .6-.8 .8-.6 .8-.5 .9-.5 .9-.4 1-.3 .9-.4 1-.3 .9-.2 1-.1 1 .4 .6 .7 .4 .9 .1 1 -.2 1 -.1 1 -.2 1 .4 .9 .7 .7 .9 .5 .9 .5 .8 .6 .8 .6 .9 .4 1-.1 .8-.6 .4-.9 .1-1 -.2-1 -.4-.9 -.5-.8 -.5-.9 -.6-.8 -.8-.6 -.9-.4 -1-.3 -.9-.5 -.8-.6 -.5-.8 -.3-1 0-1 .1-1 .3-.9 .3-1 .4-.9 .4-.9 .2-1 .2-1 0-1 0-1 -.3-.9 -.5-.9 -.6-.8 -.8-.6 -.9-.4 -1-.1 -1 .2 -.7 .7 -.2 1 .1 1 .2 1 .3 .9 .3 1 .3 1 .2 .9 .2 1 .4 .9 .6 .8 .8 .6 .9 .5 .8 .5 .9 .6 .9 .4 .9 .4 .9 .4 1 .3 .9 .2 1 .3 1 .2 .9 .3 1 .2 1 .3 .9-.4 .6-.8 .1-.9 -.2-1 -.4-.9 -.5-.8 -.8-.7 -.8-.6 -.8-.6 -.7-.7 -.7-.7 -.5-.9 -.5-.9 -.2-.9 -.2-1 -.2-1 -.1-1 .2-1 .3-.9 .6-.9 .8-.5 1-.1 1 .2 .9 .4 .9 .4 .9 .4 .8 .6 .7 .8 .5 .8 .4 1 .2 .9 .2 1 .2 1 .1 1 .3 .9 .7 .8 .9 .3 1-.2 .6-.8 0-1 -.2-1 -.5-.8 -.7-.8 -.7-.7 -.5-.9 -.3-.9 -.2-1 -.1-1 .1-.9 .4-1 .5-.8 .8-.6 1-.4 .9-.2 1-.2 1-.1 1 0 1-.1 1-.1 1-.2 1-.2 .9-.2 .8-.6 .2-.9 -.1-1 -.3-1 -.4-.9 -.4-.9 -.2-1 0-1 0-1 -.2-1 -.5-.9 -.7-.6 -1-.3 -1 0 -.8 .6 -.6 .8 -.2 1 0 1 .2 1 .2 .9 .1 1 .2 1 .1 1 -.1 1 -.2 1 -.2 1 -.1 1 -.2 .9 .1 1 .1 1 .2 1 .4 .9 .5 .9 .6 .8 .6 .8 .6 .8 .8 .6 1 .2 1-.2 .8-.6 .7-.7 .5-.8 .6-.9 .7-.7 .8-.6 .7-.7 .8-.6 .8-.7 .7-.6 .8-.6 .7-.7 .8-.7 .6-.8 .5-.8 .6-.8 .7-.8 .7-.7 .7-.7 .8-.6 .8-.6 .7-.7 .7-.7 .7-.8 .6-.7 .6-.8 .5-.9 .4-.9 .2-1 -.1-1 -.3-1 -.5-.8 -.7-.7 -.9-.2 -1 .2 -.9 .5 -.7 .7 -.6 .8 -.4 .9 -.3 1 -.1 1 .1 .9 .2 1 .2 1 .2 1 .2 1 .2 .9 .2 1 .2 1 .2 1 .3 .9 .2 1 .5 .9 .6 .8 .6 .7 .9 .6 .9 .4 .9 .3 1 0 1-.3 .8-.6 .7-.6 .6-.8 .4-.9 .3-1 .2-1 0-1 0-1 0-1 -.1-1 -.1-1 -.1-1 .1-1 .1-1 .4-.9 .8-.6 .9 0 .9 .5 .7 .7 .4 .9 0 1 -.2 1 -.3 1 -.3 .9 -.3 1 -.3 .9 -.1 1 0 1 .4 .9 .7 .7 1 .2 1-.1 .7-.7 .5-.9 .1-.9 -.2-1 -.5-.9 -.9-.4 -1 .1 -.8 .6 -.6 .8 -.6 .8 -.6 .8 -.5 .9 -.5 .9 -.4 .9 -.3 .9 0 1 .4 .9 .7 .7 .8 .5 1 .3 1 .1 1-.1 1 0 1-.1 1-.2 1-.1 .9 .1 1 .2 .9 .5 .6 .8 .3 1 -.1 .9 -.6 .9 -.8 .5 -1 .2 -1-.1 -.9-.4 -.8-.7 -.7-.6 -.8-.7 -.7-.6 -.9-.6 -.9-.3 -1 0 -.8 .5 -.6 .8 -.1 1 .3 1 .6 .8 .8 .6 .9 .5 .8 .5 1 .3 1 .1 1 0 1 .1 1 0 1 .2 1 .1 .9 .1 1 .2 1 .2 1 0 1-.1 .9-.4 .9-.5 .6-.8 .6-.8 .5-.9 .4-.9 .5-.8 .7-.8 .6-.8 .7-.7 .9-.5 1 0 .8 .5 .4 1 -.2 .9 -.4 .9 -.7 .8 -.8 .6 -.8 .5 -.9 .5 -.8 .6 -.8 .6 -.7 .7 -.7 .7 -.7 .8 -.6 .8 -.4 .9 -.2 .9 -.2 1 -.1 1 0 1 .2 1 .5 .9 .8 .6 .9 .2 1-.1 .9-.4 .8-.6 .5-.9 .2-1 0-1 -.4-.9 -.7-.7 -1-.3 -1 0 -.9 .4 -.7 .6 -.5 .9 -.2 1 0 1 .1 1 .1 1 .2 1 .3 .9 .5 .9 .4 .9 .3 .9 .5 .9 .6 .9 .6 .7 .8 .6 .9 .5 .9 .5 .9 .3 1 .2 1 0 1 0 1 0 1-.1 1 0 1-.1 1-.1 .9-.2 1-.2 1-.3 .8-.5 .7-.8 -.1-1 -.6-.7 -.9-.5 -.9-.2 -1-.1 -1-.1 -1 0 -1-.1 -1 0 -1 .1 -1 .3 -.9 .4 -.9 .5 -.8 .6 -.6 .8 -.1 1 .2 .9 .7 .7 1 .3 1 .1 1-.2 .9-.2 1-.3 1 0 1 .1 .9 .5 .6 .7 .3 1 -.1 1 -.6 .8 -.8 .6 -.9 .3 -1 .2 -1 0 -1-.2 -.9-.4 -.9-.4 -.8-.5 -1-.5 -.9-.3 -1-.1 -1-.1 -1 .1 -.9 .4 -.6 .8 -.3 .9 .3 1 .6 .8 .7 .6 .9 .5 1 .2 1-.1 1-.2 1-.2 1 0 1 .1 1 0 1 .2 .9 .3 .9 .5 .8 .6 .7 .7 .5 .8 .4 .9 .3 1 .3 1 .1 1 0 1 .1 .9 0 1 -.4 1 -.5 .8 -.6 .8 -.7 .8 -.7 .7 -.8 .5 -.9 .5 -.9 .3 -1 .2 -1 0 -1-.3 -.9-.5 -.7-.7 -.8-.6 -.9-.5 -.8-.6 -.7-.7 -.4-.9 -.2-1 -.1-1 -.2-1 -.4-.9 -.5-.9 -.6-.7 -.8-.6 -1-.3 -1-.1 -1 .3 -.7 .6 -.5 .9 -.2 1 .1 1 .2 .9 .3 1 .2 1 .1 1 0 1 -.1 1 -.3 .9 -.4 .9 -.4 .9 -.5 .9 -.5 .9 -.5 .8 -.6 .8 -.8 .7 -.8 .5 -.9 .4 -1 .3 -1 0 -1-.2 -.9-.5 -.6-.7 -.5-.9 -.4-.9 .2-1 .7-.7 .9-.4 1-.2 1-.2 .9-.3 .9-.5 .6-.8 .3-.9 .2-1 .1-1 -.1-1 -.1-1 -.2-1 -.1-1 -.2-1 .4-.8 .9 0 1 .4 .9 .4 .9 .4 .9 .5 .8 .6 .7 .7 .6 .8 .4 .9 -.1 1 -.4 .9 -.6 .8 -.7 .7 -.8 .7 -.8 .6 -.8 .5 -.9 .5 -.9 .3 -1 .4 -.9 .4 -.9 .4 -.8 .5 -.7 .8 -.5 .9 -.3 .9 -.2 1 0 1 0 1 0 1 -.2 1 -.3 .9 -.3 1 -.2 1 .1 1 .2 .9 .5 .9 .5 .9 .6 .8 .6 .7 .7 .7 1 .4 1-.1 .7-.6 .6-.8 .5-.9 .4-.9 0-1 -.5-.9 -.8-.5 -.9-.5 -.9-.5 -.8-.6 -.7-.7 -.6-.7 -.5-.9 -.4-.9 -.4-1 -.6-.7 -.9-.5 -.9-.2 -1 0 -1 .3 -.9 .5 -.7 .7 -.5 .8 -.4 1 -.3 .9 -.4 .9 -.4 .9 -.5 .9 -.5 .9 -.4 .9 -.3 .9 -.2 1 .1 1 .3 1 .4 .9 .7 .7 1 .3 1 0 .9-.4 .7-.7 .5-.9 .1-1 -.2-.9 -.6-.8 -.8-.6 -.9-.5 -.8-.5 -.9-.5 -.9-.5 -.8-.6 -.9-.5 -.8-.5 -.9-.5 -.9-.4 -.8-.5 -.8-.7 -.8-.6 -.7-.7 -.9-.5 -1 .1 -.8 .6 -.7 .7 -.6 .8 -.5 .9 -.5 .8 -.6 .8 -.4 .9 -.3 1 -.4 .9 -.5 .9 -.4 .9 -.4 .9 -.5 .9 -.3 1 0 .9 .1 1 .4 1 .6 .8 .8 .6 .9 .3 1 0 1-.1 1-.4 .7-.6 .7-.7 .5-.9 .3-1 .1-1 -.3-.9 -.6-.8 -.8-.6 -.9-.4 -1-.2 -1-.1 -1 .1 -.9 .5 -.8 .6 -.5 .8 -.5 .9 -.2 1 -.2 1 -.3 .9 -.3 1 -.7 .7 -.9 .4 -1-.1 -.9-.5 -.7-.8 -.4-.8 -.1-1 .2-1 .6-.8 .8-.6 1-.1 1 .2 .8 .5 .7 .7 .5 .9 .5 .9 .3 .9 .1 1 .1 1 0 1 -.1 1 -.4 .9 -.4 .9 -.6 .9 -.6 .7 -.8 .6 -1 .2 -.9-.4 -.8-.5 -.8-.7 -.7-.7 -.6-.8 -.7-.7 -.7-.7 -.8-.6 -.9-.6 -.8-.5 -.8-.6 -.8-.6 -.6-.8 -.3-1 -.3-.9 -.4-.9 -.3-1 -.1-1 .2-1 .2-.9 .5-.9 .6-.8 .5-.9 .6-.8 .4-.9 .1-1 -.3-1 -.6-.7 -.9-.5 -1-.1 -1 .3 -.7 .6 -.5 .9 -.2 .9 .1 1 .3 1 .4 .9 .3 .9 .2 1 .1 1 0 1 -.1 1 -.3 1 -.6 .8 -.8 .5 -1 .2 -.9-.3 -.9-.5 -.7-.7 -.6-.8 -.5-.8 -.4-.9 -.5-.9 -.4-1 -.3-.9 -.3-1 -.2-.9 -.2-1 -.2-1 -.2-1 -.2-1 -.1-1 -.1-.9 0-1 -.1-1 0-1 .1-1 .3-1 .4-.9 .6-.8 .7-.7 .8-.6 1-.3 .9-.2 1 0 .9 .5 .6 .7 .2 1 -.1 1 -.3 1 -.5 .9 -.6 .8 -.7 .6 -.9 .5 -.9 .4 -.9 .4 -1 .4 -.9 .3 -1 .2 -1 .2 -1 .1 -1 .1 -.9-.1 -1-.2 -.8-.6 -.6-.8 -.5-.9 -.5-.9 -.6-.8 -.6-.7 -.7-.8 -.9-.5 -1-.2 -.9 .2 -.8 .6 -.5 .9 0 1 .5 .8 .9 .5 1 0 .9-.2 .8-.6 .6-.9 .2-.9 -.2-1 -.4-.9 -.7-.7 -.9-.5 -1-.2 -1 0 -1 .1 -1 .1 -1 .1 -.9-.3 -.6-.8 .1-1 .4-.9 .8-.6 1-.3 1 .1 .9 .3 .9 .5 .8 .6 .8 .6 .8 .6 1 .3 1 0 .9-.4 .8-.6 .7-.7 .6-.7 .6-.9 .5-.8 .4-.9 .3-1 .5-.9 .5-.8 .7-.8 .8-.6 .9-.5 .7-.6 .1-1 -.6-.9 -.8-.4 -1-.3 -1-.2 -1-.3 -.9-.2 -1-.3 -1-.2 -.9-.2 -1-.2 -.9-.4 -1-.3 -.9-.3 -1-.3 -1-.2 -1-.1 -1 0 -1 .2 -.9 .3 -.8 .6 -.5 .8 0 1 .4 .9 .8 .6 1 .3 1-.1 1-.1 .9-.3 .9-.4 .9-.5 .9-.5 .7-.6 .7-.7 .5-.9 .3-.9 -.1-1 -.3-1 -.6-.8 -.6-.7 -.7-.8 -.6-.8 -.3-1 -.2-.9 -.1-1 .2-1 .3-1 .4-.9 .4-.9 .5-.9 .5-.9 .5-.8 .7-.7 .8-.7 .8-.5 .9-.4 1-.1 1 .1 1 .2 .9 .4 .8 .6 .7 .8 .4 .8 .4 1 -.2 1 -.5 .8 -.8 .6 -.9 .4 -1 .2 -1-.2 -.9-.3 -1-.3 -.9-.4 -.9-.4 -1-.3 -.9-.4 -.9-.4 -.9-.5 -.8-.6 -.9-.5 -.9-.4 -.9-.3 -.9-.4 -.9-.5 -.7-.7 -.4-.9 0-1 .6-.8 .8-.5 1-.1 1 0 1 .3 .9 .4 .8 .6 .8 .6 .9 .4 1 .2 1 0 .9-.4 .9-.5 .8-.6 .5-.8 .4-1 .2-.9 0-1 -.1-1 -.1-1 -.4-1 -.5-.8 -.7-.7 -.8-.5 -1-.2 -1 .1 -.9 .4 -.8 .6 -.6 .9 -.3 .9 0 1 0 1 0 1 .1 1 .3 1 .3 .9 .4 .9 .6 .8 .8 .7 .8 .5 .9 .4 1 .2 1 0 1-.3 .8-.6 .6-.8 .2-.9 -.1-1 -.2-1 -.3-1 -.2-.9 -.2-1 -.3-.9 -.4-1 -.5-.8 -.7-.8 -.7-.6 -.9-.6 -.9-.5 -.9-.4 -.9-.4 -.9-.4 -.8-.5 -.9-.6 -.7-.7 -.1-1 .4-.9 .8-.5 1-.4 .9-.3 1-.3 1-.2 .9-.2 1-.1 1 .2 1 .3 .9 .4 .9 .3 1 .3 .9 .5 .8 .5 1 .3 1 .1 .9-.2 .7-.7 .3-1 0-1 -.5-.8 -.6-.8 -.8-.7 -.9-.4 -.9-.4 -1-.2 -.9-.4 -.9-.5 -.7-.7 -.4-.9 -.2-1 .3-.9 .7-.7 1-.1 1 .1 1 0 1 .2 1 .2 .9 .4 .9 .5 .9 .4 .9 .4 1 .2 1 .1 1 .1 1 .1 1 0 1 .1 1 0 1-.1 1 0 1 .1 1-.1 .7-.6 .5-.9 .1-1 -.3-.9 -.6-.8 -.7-.7 -.7-.7 -.7-.8 -.4-.9 -.3-1 0-.9 .3-1 .4-.9 .5-.9 .7-.7 .9-.3 1 .2 .9 .4 .9 .5 .8 .6 .5 .9 .3 .9 -.1 1 -.3 .9 -.5 .9 -.3 1 -.2 .9 0 1 0 1 -.1 1 -.1 1 .1 1 .2 1 .3 1 .3 .9 .5 .9 .6 .8 .6 .8 .8 .6 .8 .6 .8 .6 .9 .5 .9 .2 1-.2 .7-.7 .3-.9 .1-1 -.2-1 -.5-.9 -.7-.7 -.8-.6 -.8-.6 -.9-.5 -.7-.6 -.6-.9 -.4-.9 -.3-1 -.1-.9 .1-1 .3-1 .7-.7 .9-.5 .9-.3 1 0 1 .2 .8 .5 .8 .7 .5 .9 .1 1 -.1 .9 -.3 1 -.4 .9 -.4 .9 -.4 .9 -.2 1 .1 1 .6 .8 1 .3 .9-.3 .7-.7 .3-1 .1-1 0-1 .2-.9 .5-.9 .9-.4 1 .2 .9 .4 .8 .6 .9 .4 1 .2 1-.1 1-.1 .9-.3 .9-.4 .9-.5 .7-.7 .6-.8 .3-.9 0-1 -.3-1 -.6-.8 -.9-.5 -1-.2 -1 0 -.9 .1 -.9 .5 -.8 .7 -.6 .8 -.5 .8 -.6 .8 -.4 .9 -.4 1 -.3 .9 -.4 .9 -.4 .9 -.5 .9 -.5 .8 -.4 1 -.4 .9 -.4 .9 -.3 1 -.1 1 0 1 .3 .9 .8 .6 1 0 .9-.4 .9-.6 .7-.6 .8-.6 .8-.6 .8-.6 .8-.6 .9-.4 .9-.4 1-.2 1-.2 1-.1 1-.1 1-.2 .9-.2 1-.2 1-.1 1-.2 1-.1 1-.2 1 .1 1 .2 .9 .4 .9 .4 .8 .6 .7 .7 .3 1 -.2 1 -.6 .7 -.8 .6 -.9 .3 -1 .1 -1 0 -1-.1 -1-.4 -.8-.5 -.7-.7 -.5-.9 0-1 .3-.9 .6-.8 .9-.5 .8-.6 .8-.6 .8-.6 .9-.5 .9-.1 1 .2 .8 .6 .6 .8 .4 .9 .3 .9 .3 1 .1 1 .1 1 .1 1 -.1 1 -.2 1 -.4 .9 -.5 .8 -.6 .8 -.6 .8 -.7 .8 -.6 .7 -.6 .9 -.4 .9 -.6 .8 -.7 .7 -.4 1 .2 .9 .8 .7 .9 .2 1-.1 1-.3 .8-.5 .7-.7 .7-.8 .6-.8 .6-.7 .6-.8 .6-.9 .6-.7 .7-.8 .7-.7 .6-.8 .6-.8 .8-.7 .7-.6 .8-.6 1-.4 .9 0 1 .3 .6 .8 .1 1 -.3 .9 -.7 .8 -.8 .5 -1 .3 -.9 .3 -1 .3 -.9 .5 -.8 .5 -.7 .7 -.6 .8 -.3 1 .1 1 .4 .8 .9 .6 1 .2 1 0 .9-.3 .9-.5 .6-.8 .6-.8 .5-.8 .7-.7 1-.4 .9-.2 1-.1 1 .1 1 .3 .9 .4 .9 .5 .8 .5 .7 .7 .2 1 -.1 1 -.2 1 0 1 -.2 .9 -.2 1 -.3 1 -.4 .9 -.5 .8 -.5 .9 -.5 .9 -.5 .8 -.6 .9 -.7 .7 -.8 .5 -1 .3 -1 .1 -.9-.3 -.8-.6 -.6-.8 -.2-1 .1-.9 .4-1 .7-.7 .8-.4 1-.1 .9 .4 .7 .8 .3 .9 0 1 -.3 1 -.4 .9 -.6 .8 -.6 .8 -.7 .7 -.7 .7 -.6 .8 -.6 .8 -.3 1 0 1 .1 .9 .2 1 .3 1 .5 .9 .5 .9 .5 .8 .7 .7 .9 .5 .9 .4 1 .1 1 0 1-.1 .9-.3 .9-.5 .7-.7 .6-.8 .6-.8 .6-.8 .6-.8 .4-.9 .2-1 -.2-1 -.5-.8 -.7-.8 -.9-.5 -.9-.3 -1-.1 -1-.1 -1 .1 -1 0 -1 .2 -1 0 -1 .2 -.9 .4 -.8 .5 -.9 .6 -.8 .5 -.9 .4 -1 .3 -.9 .4 -.9 .4 -.8 .7 -.6 .7 -.5 .9 -.2 1 .2 1 .5 .9 .5 .8 .5 .9 .2 1 .2 1 .1 1 .2 .9 .2 1 .2 1 .3 .9 .5 .9 .6 .8 .6 .9 .5 .8 .7 .7 .7 .7 .9 .5 .9 .5 1 .1 .9-.2 1-.4 .7-.7 .3-.9 0-1 -.5-.9 -.7-.7 -.8-.5 -.9-.4 -1-.1 -1 .2 -.8 .6 -.7 .7 -.5 .9 -.2 .9 0 1 .1 1 0 1 .2 1 .3 .9 .5 .9 .5 .8 .7 .8 .8 .6 .9 .4 1 .1 1-.3 .7-.7 .1-.9 -.2-1 -.4-.9 -.6-.8 -.7-.7 -.8-.7 -.7-.6 -.8-.7 -.8-.6 -.9-.4 -1-.3 -1 0 -1 0 -.9 .2 -1 .3 -.9 .4 -1 .3 -.9 .3 -1 .3 -.9 .3 -1 .1 -1 .2 -1 .1 -1 .1 -1 .1 -1 0 -1-.2 -1-.2 -.9 .3 -.2 1 .4 .9 .7 .7 .9 .4 1 .1 .9-.3 .9-.5 .7-.7 .5-.9 .2-.9 -.1-1 -.5-.8 -.9-.5 -.9 .2 -.5 .8 .1 1 .4 .9 .7 .8 .8 .6 .9 .4 .9 .3 1 .3 1 .2 .9 .3 .9 .5 .7 .7 .4 .9 .2 1 0 1 0 1 0 1 -.1 1 -.2 1 -.2 .9 -.2 1 0 1 -.1 1 -.1 1 -.3 1 -.4 .9 -.3 .9 -.5 .9 -.5 .9 -.5 .9 -.6 .7 -1 .3 -1 .1 -1-.1 -.9-.2 -1-.3 -1-.2 -1 0 -.9 .3 -.9 .5 -.8 .5 -1 .1 -.9-.4 -.8-.7 -.5-.8 -.2-1 -.1-1 -.1-1 .3-.9 .4-.9 .6-.8 .7-.7 .9-.5 .9-.4 1 0 1 .1 1 .3 .7 .7 .5 .9 .2 .9 0 1 0 1 -.2 1 -.2 1 -.5 .9 -.6 .8 -.8 .5 -1 .2 -1 .1 -1-.1 -1-.1 -.9-.4 -.9-.4 -.9-.4 -1-.4 -.9-.4 -.9-.3 -1-.3 -1-.1 -1 0 -.9 .4 -.7 .7 -.8 .6 -1 .4 -.9 .3 -1 .2 -1 0 -1 0 -1-.2 -.9-.4 -.8-.6 -.8-.6 -.7-.7 -.6-.8 -.4-.9 -.4-.9 -.2-1 -.1-1 0-1 0-1 -.1-1 .1-1 -.1-1 0-1 .1-1 .1-1 .1-1 -.3-.9 -.6-.8 -1-.1 -.6 .7 -.1 1 .2 1 .4 .9 .4 .9 .6 .9 .6 .7 .7 .8 .7 .7 .7 .7 .7 .7 .5 .9 .4 .9 .2 1 0 1 0 1 -.3 .9 -.4 .9 -.8 .7 -.9 .4 -1 .1 -.9-.2 -.8-.7 -.6-.8 -.5-.9 -.3-.9 -.3-.9 -.7-.7 -1-.3 -.9 .4 -.5 .8 -.2 1 .4 .9 .8 .6 1 0 .8-.5 .5-.9 .1-1 .1-1 -.1-1 -.3-1 -.4-.9 -.5-.9 -.5-.8 -.4-.9 -.4-.9 -.5-.9 -.6-.8 -.7-.7 -.9-.5 -1 0 -.9 .3 -.9 .5 -.7 .7 -.5 .8 -.3 1 -.1 1 0 1 .1 1 .2 1 .2 .9 .2 1 0 1 -.3 .9 -.8 .6 -1 .1 -.9-.4 -.5-.9 0-1 .3-.9 .6-.8 .8-.6 .9-.5 .9-.3 1-.4 .9-.2 1-.3 1-.3 .9-.5 .7-.6 .5-.9 .1-1 -.2-1 -.5-.8 -.8-.7 -.8-.6 -.9-.4 -.9-.3 -1-.3 -1-.3 -.9-.2 -1-.1 -1-.2 -1-.2 -1 0 -1-.2 -1-.2 -.9-.2 -1-.1 -1 .1 -1 .2 -.9 .3 -.9 .5 -.7 .7 -.5 .9 -.2 1 .1 .9 .5 .9 .7 .7 .9 .5 1 .3 1-.1 .9-.3 .8-.7 .7-.7 .6-.8 .5-.8 .3-1 .2-1 .1-.9 .1-1 .2-1 0-1 -.2-1 -.6-.8 -.8-.6 -1-.2 -1-.1 -1-.1 -1-.2 -.9-.3 -.9-.5 -.6-.8 -.1-1 .2-1 .5-.8 .8-.7 .9-.2 1 0 .9 .5 .5 .9 .2 1 0 1 -.2 1 -.4 .9 -.7 .7 -.9 .5 -.9 .3 -1 .2 -1 .1 -1 0 -1-.1 -1-.2 -.9-.3 -.9-.5 -.7-.7 -.6-.8 -.5-.9 -.3-.9 -.5-.9 -.6-.8 -.7-.7 -.9-.4 -1-.1 -1-.1 -1 .1 -1 .3 -.9 .3 -.9 .3 -.9 .6 -.7 .7 -.4 .9 -.3 .9 .2 1 .6 .9 .7 .6 .8 .6 .9 .5 .9 .4 1 .1 1-.1 1-.2 .7-.6 .5-.9 .3-1 .3-.9 0-1 -.1-1 -.3-1 -.4-.9 -.5-.8 -.7-.8 -.8-.6 -.7-.7 -.8-.6 -.8-.6 -.9-.5 -.9-.4 -.9-.3 -1-.1 -1 .3 -.8 .6 -.4 .8 .1 1 .7 .7 .9 .5 1 .1 1-.1 .9-.4 .8-.6 .4-.9 0-1 -.3-.9 -.6-.9 -.6-.8 -.7-.7 -.8-.6 -.9-.4 -.9-.4 -.9-.4 -1-.4 -.7-.6 -.3-1 .3-.9 .5-.9 .6-.8 .7-.6 .9-.6 .9-.5 .9-.4 .9-.3 1-.3 1-.2 .9-.2 1-.2 1-.1 1 0 .9 .4 .8 .6 .6 .9 .4 .8 .4 1 .2 1 0 1 -.1 .9 -.4 1 -.5 .8 -.8 .7 -.9 .3 -1 0 -.9-.4 -.7-.7 -.4-.9 -.4-1 -.3-.9 -.4-.9 -.4-.9 -.4-.9 -.1-1 -.1-1 -.1-1 .1-1 .1-1 .1-1 .2-1 .2-1 .3-.9 .4-.9 .5-.9 .5-.9 .6-.8 .6-.8 .6-.8 .6-.7 .9-.5 1-.3 1 .1 .9 .3 .7 .7 .5 .8 0 1 -.5 .9 -.8 .6 -.9 .4 -1 0 -1-.2 -.9-.3 -1-.4 -.9-.3 -1-.2 -.9-.4 -.9-.4 -.9-.5 -.7-.7 -.6-.8 -.3-.9 -.1-1 .2-1 .5-.9 .5-.8 .6-.8 .6-.8 .5-.9 .6-.8 .7-.7 .7-.7 .8-.7 .8-.6 .8-.5 .9-.5 .9-.3 1-.4 .9-.3 1-.2 1-.2 1-.1 1 .2 .9 .3 .9 .4 .9 .5 .9 .5 .8 .5 .7 .7 .7 .8 .4 .9 .1 1 -.3 .9 -.6 .7 -.9 .5 -1 .1 -1-.3 -.9-.3 -.9-.6 -.7-.6 -.7-.8 -.5-.8 -.5-.9 -.3-.9 -.2-1 .1-1 .4-.9 .5-.8 .7-.8 .9-.5 .9-.3 1 .1 1 .2 1 .3 .9 .4 .9 .3 1 .3 .9 .4 .9 .4 .9 .4 1 .3 1 .2 .9 .3 .9 .5 .8 .5 .7 .8 .3 .9 -.3 .9 -.8 .6 -1 .2 -1-.2 -.9-.4 -.9-.5 -.7-.7 -.6-.8 -.5-.9 -.2-.9 -.1-1 .1-1 .5-.9 .8-.5 1-.4 .9-.2 1-.1 1 .3 .7 .6 .3 1 -.3 .9 -.7 .7 -.9 .4 -1 0 -1-.3 -.9-.4 -.8-.6 -.9-.5 -.8-.5 -.9-.5 -.8-.5 -.9-.6 -.7-.6 -.7-.8 -.5-.8 -.4-1 0-1 .3-.9 .6-.8 .6-.7 .7-.8 .6-.8 .5-.8 .5-.9 .3-1 .4-.9 .3-1 .4-.9 .6-.8 .7-.7 .9-.3 1 0 .9 .5 .7 .6 .6 .9 .3 .9 .1 1 -.2 1 -.1 1 .1 1 .1 1 .4 .9 .6 .8 .9 .5 1 0 .9-.4 .8-.5 .7-.7 .5-.9 .2-1 0-1 -.2-1 -.2-.9 -.3-1 -.4-.9 -.4-.9 -.4-.9 -.4-1 -.2-.9 .1-1 .4-.9 .8-.6 1-.2 .9-.1 1-.2 1-.1 1 .1 1 .2 1 .1 1 .1 1 0 1-.2 .6-.7 .3-1 .4-.9 .6-.8 .7-.6 1 .3 .5 .8 .2 1 .1 1 .1 1 -.3 1 -.4 .9 -.5 .8 -.7 .8 -.8 .6 -.9 .4 -1 .2 -1-.1 -.8-.5 -.6-.8 -.4-.9 0-1 .1-1 .4-1 .5-.8 .9-.4 1-.1 1 0 1 0 1 .2 1 .3 .8 .5 .9 .5 .9 .5 .8 .6 .7 .7 .5 .8 .5 .9 .5 .9 .6 .8 .6 .8 .6 .8 .5 .9 .5 .8 .5 .9 .6 .8 .3 .9 .3 1 .3 1 .4 .9 .3 1 .2 .9 .1 1 -.2 1 -.4 .9 -.7 .8 -.8 .5 -1 .2 -1 0 -.9-.3 -.9-.5 -.8-.6 -.7-.7 -.6-.8 -.5-.9 -.1-1 .1-.9 .3-1 .6-.8 .6-.8 .7-.7 .8-.6 .7-.7 .6-.8 .6-.8 .5-.9 .6-.8 .6-.8 .6-.8 .6-.8 .5-.9 .5-.8 .5-.9 .4-.9 .7-.7 .9-.3 1 .2 .8 .5 .8 .7 .8 .6 .9 .5 .9 .4 .9 .4 .9 .5 .8 .5 .7 .7 .8 .6 .8 .6 .8 .7 .7 .7 .5 .8 .5 .9 .4 .9 .4 .9 .4 1 .3 .9 .3 1 .1 .9 .1 1 -.1 1 -.3 1 -.6 .8 -.8 .6 -.9 .5 -.8 .5 -.9 .5 -1 .3 -1-.2 -.7-.6 -.3-.9 .1-1 .6-.8 .8-.6 1-.2 1 .2 .9 .3 .9 .6 .8 .5 .9 .5 .9 .4 .9 .3 1 .2 1-.2 .9-.5 .5-.8 .4-1 -.1-1 -.5-.8 -.9-.6 -1-.1 -.9 .1 -.9 .4 -.8 .7 -.6 .8 -.6 .8 -.6 .8 -.6 .8 -.4 .9 -.3 1 -.3 .9 -.3 1 -.4 .9 -.2 1 -.1 1 .1 1 .1 1 0 1 .1 1 .1 .9 0 1 -.1 1 .1 1 .4 1 .7 .7 .8 .6 .8 .5 .9 .4 .9 .5 1 .4 .9 .3 1 .2 1 .1 1-.1 .9-.4 .6-.8 .6-.8 .5-.8 .5-.9 .4-.9 .5-.9 .7-.8 .7-.7 .8-.5 .9-.5 .9-.5 .9-.4 .9-.4 .8-.5 .7-.8 .4-.9 -.3-.9 -.8-.6 -1-.3 -1-.1 -1-.1 -1-.2 -1-.1 -1-.1 -1 0 -1 0 -.9 .2 -1 .4 -.8 .5 -.8 .7 -.6 .8 -.4 .9 -.1 1 0 1 .1 1 .2 .9 .1 1 .1 1 0 1 .1 1 .3 1 .5 .9 .6 .8 .8 .6 .9 .4 .9 .3 1 0 1-.1 .9-.4 .8-.6 .7-.7 .5-.9 .5-.8 .4-.9 .5-.9 .5-.9 .6-.8 .8-.5 1-.2 1 .2 .9 .4 .8 .6 .4 .9 .1 1 -.1 .9 -.1 1 -.2 1 -.2 1 -.4 .9 -.6 .8 -.8 .6 -.9 .4 -1 .3 -1 .2 -.9 .3 -1 .3 -.8 .5 -.9 .5 -.9 .5 -.8 .6 -.7 .7 -.6 .8 -.2 1 0 .9 .3 1 .6 .8 .7 .8 .6 .7 .8 .7 .8 .6 .8 .6 .7 .7 .5 .9 .2 .9 .1 1 0 1 -.1 1 -.3 1 -.5 .8 -.7 .7 -.9 .5 -.9 .3 -1 .1 -1-.1 -1-.2 -.8-.5 -.7-.8 -.3-.9 .1-1 .3-1 .5-.8 .5-.9 .6-.8 .6-.8 .6-.8 .7-.7 .7-.8 .7-.6 .9-.4 1-.3 1 .1 .9 .4 .7 .7 .3 1 -.1 1 -.5 .9 -.6 .7 -.6 .8 -.6 .8 -.8 .6 -.9 .5 -.9 .4 -1 .2 -1 .1 -1 .1 -.9 .4 -.8 .6 -.4 .9 0 1 .2 1 .5 .9 .6 .7 .9 .5 1 .2 .9-.1 .8-.6 .4-.9 -.2-1 -.6-.8 -.9-.5 -.9-.1 -1 0 -1 .1 -1 0 -1 0 -1-.1 -1 0 -1 .1 -.9 .4 -.8 .6 -.5 .9 0 1 .3 .9 .5 .9 .7 .7 .8 .6 .8 .6 .8 .5 1 .3 .9 .2 1 0 1-.1 1 0 1 0 1 .1 1 .2 1 .3 .8 .6 .7 .7 .5 .9 .2 .9 .1 1 -.1 1 -.2 1 -.2 1 0 1 0 1 0 1 -.4 .9 -.7 .7 -.8 .6 -.8 .7 -.7 .7 -.6 .8 -.6 .7 -.8 .7 -.8 .6 -.8 .6 -.8 .6 -.8 .6 -.9 .4 -.9 .4 -1 .3 -.9 .3 -1 .3 -1 .2 -1-.1 -.9-.3 -.7-.7 -.4-.9 .1-1 .5-.9 .8-.6 .9-.4 1-.2 1-.1 1 .2 1 .1 .9 0 1-.3 .8-.5 .7-.7 .4-.9 0-1 -.5-.9 -.7-.7 -.9-.5 -1-.1 -.9 .3 -.9 .5 -.8 .5 -.9 .6 -.9 .5 -.9 .2 -1 0 -1-.2 -1-.2 -.9-.5 -.8-.6 -.8-.6 -.8-.6 -.9-.5 -.9-.4 -.9-.2 -1-.1 -1 .1 -1 .2 -1 .3 -.9 .3 -1 .3 -.8 .6 -.6 .8 -.3 1 .1 .9 .3 1 .6 .8 .6 .8 .5 .9 .5 .9 .5 .8 .5 .9 .6 .8 .6 .7 .8 .7 .9 .4 1 .1 .9-.3 .6-.8 .1-1 -.2-1 -.5-.8 -.7-.7 -.9-.5 -.9-.4 -1 0 -1 .1 -.9 .5 -.8 .6 -.7 .7 -.6 .8 -.5 .8 -.5 .9 -.3 1 -.2 .9 0 1 .5 .9 .8 .6 1 .1 .8-.5 .5-.8 0-1 -.3-1 -.7-.7 -.7-.7 -.9-.5 -.9-.4 -1-.2 -.9 .2 -.9 .4 -.7 .7 -.5 .9 -.3 .9 -.1 1 0 1 0 1 0 1 0 1 0 1 .1 1 -.2 1 -.3 1 -.6 .7 -1 .4 -.9-.1 -1-.4 -.8-.5 -.7-.7 -.5-.9 0-1 .3-1 .4-.9 .5-.8 .6-.8 .7-.7 .8-.7 .7-.6 .8-.6 .6-.8 .4-.9 -.1-1 -.4-1 -.6-.8 -.7-.6 -.9-.5 -.9-.4 -1-.3 -.9-.3 -1-.3 -.9-.5 -.8-.4 -1-.4 -1-.1 -.9 .3 -.8 .7 -.3 .9 -.1 1 .2 1 .4 .9 .6 .8 .7 .7 .8 .7 .7 .6 .8 .7 .6 .7 .4 .9 .1 1 -.3 1 -.6 .8 -.8 .5 -1 .2 -1 0 -1-.2 -.9-.4 -.8-.5 -.8-.6 -.8-.6 -.9-.5 -.9-.4 -.9-.4 -1-.3 -1-.2 -.9-.4 -.7-.7 -.3-.9 .1-1 .5-.8 .8-.7 .8-.5 .9-.6 .8-.5 .9-.5 .9-.5 .9-.3 .9-.5 .8-.5 .5-.9 .3-1 .1-1 -.1-1 0-1 0-1 -.3-.9 -.7-.7 -1-.2 -1 0 -.9 .2 -1 .3 -1 .2 -1 .2 -.9 .3 -1 .2 -1 .1 -1 .1 -1 .1 -1 .2 -.9 .3 -.9 .4 -.9 .5 -.7 .7 -.6 .8 -.3 .9 .1 1 .5 .9 .5 .8 .8 .7 .8 .6 .9 .4 1 .3 1-.1 .9-.3 .8-.7 .4-.9 .4-.9 .3-1 .2-.9 .2-1 .1-1 .1-1 0-1 -.2-1 -.2-.9 -.5-1 -.7-.6 -1-.3 -1 0 -.9 .1 -1 .3 -.9 .5 -.9 .5 -.7 .6 -.6 .8 -.6 .8 -.5 .9 -.6 .8 -.6 .8 -.7 .7 -.9 .5 -.9 .3 -1 0 -1-.3 -.9-.4 -.8-.6 -.6-.8 -.5-.8 -.4-1 0-1 .3-.9 .5-.8 .7-.8 .8-.6 .8-.5 .9-.5 .9-.5 .7-.7 .6-.8 .3-1 -.1-.9 -.5-.9 -.8-.7 -.9-.3 -1-.1 -.9 .4 -.8 .6 -.5 .9 -.4 .9 -.4 .9 -.5 .9 -.5 .8 -.6 .9 -.5 .8 -.5 .9 -.5 .8 -.5 .9 -.5 .8 -.7 .7 -.9 .6 -.9 .3 -1 0 -.9-.3 -.8-.7 -.4-.9 -.2-1 .1-1 .1-1 .2-1 .2-.9 .3-1 .4-.9 .5-.9 .4-.9 .5-.9 .5-.8 .5-.9 .4-.9 .4-.9 .4-1 .4-.9 .4-.9 .5-.8 .5-.9 .5-.9 .7-.7 .9-.5 .9-.2 1 0 1 .1 1 .2 .9 .4 .5 .9 -.1 1 -.6 .8 -.8 .5 -1 0 -.9-.4 -.9-.6 -.7-.7 -.6-.7 -.7-.8 -.8-.6 -.7-.7 -.8-.5 -1-.4 -.9-.4 -1-.3 -.9-.1 -1 .1 -1 .4 -.8 .6 -.6 .8 -.5 .9 -.2 .9 0 1 .4 1 .5 .8 .7 .7 .9 .5 1 .3 .9 .2 1 .1 1-.1 1-.3 .9-.3 .9-.5 .8-.5 .7-.8 .6-.8 .5-.8 .5-.9 .4-.9 .3-1 .2-1 .1-1 .1-1 -.1-1 -.2-.9 -.5-.9 -.6-.8 -.6-.8 -.6-.8 -.5-.9 -.4-.9 -.6-.8 -.7-.7 -.8-.6 -.8-.6 -.8-.6 -.9-.5 -.9-.5 -1-.1 -.9 .2 -.9 .5 -.7 .7 -.5 .9 -.3 .9 -.1 1 0 1 .5 .9 .6 .8 .7 .6 .9 .6 .9 .5 .9 .1 1-.3 .8-.6 .5-.9 .1-1 -.2-.9 -.4-.9 -.7-.8 -.8-.5 -.9-.4 -1-.3 -1-.2 -1-.1 -1 0 -1-.1 -.9-.3 -.8-.6 -.4-.9 0-1 .2-1 .3-1 .4-.9 .6-.8 .6-.8 .8-.6 .9-.4 1-.2 1-.1 1-.1 1 0 1-.1 1-.1 1 0 1 .1 .9 .3 1 .3 .9 .3 1 .3 1 .1 1 .1 1 .2 .9 .3 1 .1 1-.1 .6-.8 0-1 -.2-1 -.4-.9 -.7-.7 -.8-.5 -1-.4 -.9-.4 -.9-.3 -.8-.6 -.7-.8 -.5-.8 -.4-.9 -.4-1 -.3-.9 -.3-.9 -.3-1 -.2-1 -.1-1 0-1 -.2-1 -.4-.9 -.4-.9 -.3-.9 -.4-1 -.5-.9 -.4-.9 -.1-1 .8-.5 .9 .2 .9 .5 .7 .7 .6 .8 .6 .8 .6 .8 .7 .7 .6 .8 .5 .9 .5 .9 .4 .9 .2 .9 -.1 1 -.4 .9 -.7 .7 -.9 .4 -1 0 -1 0 -1-.2 -1-.2 -.9-.4 -.8-.5 -.7-.8 -.5-.9 -.2-1 -.1-.9 .1-1 .2-1 .4-.9 .6-.8 .8-.6 .9-.5 .9-.4 1-.1 1-.1 1 .2 .9 .4 .9 .4 .8 .6 .9 .5 .8 .6 .9 .5 .9 .3 1 0 1-.3 .6-.8 .3-.9 .1-1 0-1 0-1 0-1 .1-1 0-1 .1-1 .3-1 .4-.9 .5-.9 .7-.7 .8-.6 .8-.5 1-.3 1-.2 1-.1 1 0 1 .1 .9 .3 .9 .5 .7 .7 .4 .9 .1 1 -.2 1 -.6 .7 -1 .2 -1-.2 -.9-.4 -.7-.6 -.6-.8 -.4-1 -.4-.9 -.3-.9 -.1-1 0-1 .3-1 .8-.6 1-.1 .9 .4 .8 .6 .7 .7 .6 .8 .6 .8 .6 .8 .5 .9 .6 .8 .6 .8 .6 .8 .6 .7 .7 .8 .7 .7 .8 .6 .9 .5 .8 .6 .6 .8 .6 .8 .5 .9 .3 .9 .2 1 .2 1 .1 1 .1 1 -.1 1 -.2 .9 -.6 .8 -1 .2 -.9-.4 -.8-.6 -.6-.8 -.3-1 -.3-.9 -.4-.9 -.3-1 -.2-1 -.1-1 -.2-.9 -.2-1 -.2-1 -.1-1 0-1 .1-1 .1-1 .1-1 .2-1 .1-1 .2-.9 .3-1 .6-.8 .8-.6 .9-.3 1 .3 .7 .6 .6 .8 .6 .9 .7 .7 .8 .6 .8 .5 1 .3 1 .2 .9-.1 1-.4 .8-.5 .8-.6 .8-.6 .9-.6 .5-.8 .1-1 -.5-.9 -.9-.5 -.9 .1 -.9 .5 -.6 .8 -.3 .9 -.1 1 .1 1 .3 1 .2 1 0 1 -.1 1 -.1 1 -.1 1 -.2 1 0 1 .2 .9 .2 1 .3 1 .5 .8 .6 .9 .6 .8 .7 .7 .7 .7 .7 .7 .8 .6 .8 .5 .9 .5 .9 .4 .8 .7 .6 .7 .6 .9 .5 .8 .8 .6 .9-.1 .8-.6 .6-.8 .4-.9 .2-1 -.1-1 -.3-.9 -.5-.9 -.6-.8 -.7-.7 -.8-.7 -.7-.7 -.5-.8 -.3-1 -.1-1 .3-.9 .7-.7 1-.3 1 .1 .9 .5 .8 .6 .7 .7 .6 .8 .6 .8 .8 .6 .9 .4 1 .1 1-.2 1-.2 .9-.3 1-.2 1 0 1 0 1-.1 .9-.3 .8-.6 .5-.9 0-1 -.6-.9 -.8-.5 -1 0 -1 .3 -.8 .6 -.7 .6 -.7 .8 -.5 .9 -.5 .8 -.7 .8 -.7 .7 -.8 .6 -.7 .7 -.8 .6 -.7 .7 -.7 .7 -.4 .9 -.3 1 .1 1 .4 .9 .6 .8 .9 .5 .9 .3 1 0 1 0 1-.2 1-.1 1-.1 1 .1 .9 .3 .9 .5 .9 .4 .6 .8 .2 1 -.3 .9 -.7 .7 -1 .3 -1 .1 -1-.1 -.8-.5 -.6-.8 -.2-1 .2-1 .5-.8 .7-.7 .9-.5 1-.2 1 0 .9 .2 1 .4 .9 .4 .8 .6 .7 .7 .4 .9 .1 1 -.2 1 -.1 1 0 1 .1 1 .1 1 .1 1 .1 .9 0 1 -.3 1 -.6 .8 -.9 .3 -1 0 -1-.3 -.9-.4 -.9-.4 -.8-.6 -.6-.8 -.5-.9 -.3-.9 -.1-1 .1-1 .4-.9 .7-.8 .9-.4 .9-.2 1 .2 .8 .5 .5 .9 .3 1 0 1 -.2 1 -.1 1 .1 1 .4 .9 .6 .7 .9 .4 1 .1 1-.3 .8-.6 .6-.8 .6-.8 .6-.8 .6-.8 .7-.8 .6-.7 .7-.8 .7-.6 .9-.6 .9-.3 1-.3 .9-.2 1 0 1 .3 .6 .8 .1 1 0 1 .1 1 .2 1 .1 1 .1 1 -.2 1 -.3 .9 -.3 1 -.5 .8 -.5 .9 -.6 .8 -.6 .8 -.6 .8 -.7 .7 -.7 .8 -.8 .5 -.9 .4 -1 .2 -1-.1 -.9-.3 -.9-.5 -.7-.7 -.7-.7 -.5-.9 -.4-.9 -.4-.9 -.5-.9 -.7-.8 -.8-.5 -1-.1 -.8 .5 -.5 .9 -.3 .9 -.1 1 0 1 .2 1 .4 .9 .7 .8 .8 .6 .9 .3 1 .2 1 .1 1 0 1 .1 1 .2 .9 .4 .9 .5 .7 .7 .5 .9 .3 .9 .2 1 .2 1 -.1 1 -.3 1 -.5 .8 -.6 .8 -.7 .7 -.7 .8 -.7 .7 -.8 .5 -.9 .4 -1 .3 -1 .1 -1 .2 -1 .1 -1 0 -1-.1 -.9-.4 -.8-.6 -.2-1 .4-.9 .8-.5 1-.1 .9 .3 .8 .6 .6 .8 .6 .9 .5 .8 .6 .8 .6 .8 .8 .6 .8 .6 .9 .5 .9 .3 1 .2 1 .2 .9 .4 1 .3 .9 .2 1-.3 .9-.5 .6-.8 .3-.9 -.1-1 -.4-1 -.6-.8 -.7-.6 -.9-.5 -1-.2 -1 .1 -.9 .5 -.7 .6 -.7 .7 -.8 .7 -.6 .8 -.4 .9 -.2 1 .1 .9 .3 1 .5 .9 .7 .7 .7 .8 .6 .7 .5 .9 .4 .9 .1 1 0 1 -.4 .9 -.7 .7 -1 .1 -1-.3 -.7-.7 -.6-.8 -.4-.9 -.4-.9 -.3-1 -.2-1 -.4-.9 -.5-.9 -.6-.7 -.9-.5 -1-.1 -1 .2 -.8 .5 -.7 .8 -.5 .8 -.3 1 0 1 .3 .9 .4 .9 .6 .9 .5 .8 .5 .9 .7 .7 .6 .8 .8 .6 .6 .8 .6 .8 .6 .8 .4 1 .2 .9 .1 1 0 1 -.2 1 -.3 1 -.6 .7 -.9 .5 -1 0 -1-.3 -.8-.6 -.7-.7 -.5-.9 -.4-.9 -.5-.9 -.4-.8 -.5-.9 -.4-.9 -.5-.9 -.6-.8 -.8-.5 -1-.2 -.9 .4 -.8 .7 -.5 .8 -.3 1 -.1 1 -.1 1 0 1 0 1 .2 .9 .5 .9 .6 .8 .9 .6 .9 .4 .9 .3 .9 .5 .9 .4 .9 .5 .8 .5 .8 .7 .8 .6 .9 .3 .9-.2 0-1 -.6-.8 -.8-.6 -.8-.6 -.8-.7 -.7-.6 -.8-.6 -1-.4 -.9-.4 -.9-.4 -.9-.3 -1-.4 -.9-.3 -.9-.4 -1-.2 -1-.2 -1 .1 -1 .2 -.9 .4 -.8 .6 -.7 .7 -.7 .7 -.7 .7 -.9 .4 -1 0 -.9-.5 -.6-.8 -.2-.9 -.1-1 .2-1 .4-.9 .8-.7 .9-.3 1 .1 .9 .4 .8 .6 .6 .8 .6 .8 .2 1 0 1 -.3 .9 -.5 .9 -.6 .8 -.9 .5 -.9 .2 -1-.1 -.9-.5 -.7-.8 -.4-.9 -.1-.9 0-1 .2-1 0-1 -.4-1 -.6-.8 -.8-.5 -1-.3 -1 .1 -.9 .4 -.7 .7 -.6 .8 -.5 .8 -.5 .9 -.5 .9 -.6 .8 -.7 .7 -.9 .3 -1 0 -.9-.5 -.6-.8 -.5-.8 -.3-1 0-1 .4-.9 .7-.7 1-.3 .9 .3 .8 .7 .3 .9 .1 1 -.2 1 -.2 .9 -.2 1 -.2 1 -.1 1 -.2 1 -.2 1 -.2 1 -.1 .9 -.4 1 -.5 .8 -.8 .6 -.9 .5 -1 .2 -1 0 -.9-.3 -.9-.6 -.6-.7 -.6-.8 -.5-.9 -.3-.9 -.2-1 0-1 .1-1 .4-.9 .5-.9 .6-.8 .8-.6 .9-.4 1 0 .8 .6 .5 .9 .1 1 -.5 .9 -.7 .6 -.9 .5 -1 .3 -1 .1 -1 0 -1 0 -.9-.1 -1-.2 -1-.2 -1-.2 -1 0 -1-.1 -1 0 -1 .2 -.9 .4 -.7 .8 -.5 .8 -.3 1 0 1 0 1 .2 1 .2 .9 .3 1 .4 .9 .8 .6 .9 .4 1 .1 1-.1 .9-.3 .8-.6 .5-.9 .2-1 0-1 -.1-1 -.1-.9 -.2-1 -.3-1" fill="none" stroke="#f832f2" stroke-width="1.05" stroke-linejoin="round"/>
<ellipse cx="283.3" cy="148.6" rx="32.5" ry="29" fill="#ffff00"/>
<ellipse cx="282.6" cy="126.9" rx="1.6" ry="2.5" fill="#f00000"/>
<ellipse cx="270.7" cy="133.6" rx="1.6" ry="2.5" fill="#f00000"/>
<ellipse cx="292.7" cy="133.6" rx="1.6" ry="2.5" fill="#f00000"/>
<ellipse cx="305.2" cy="140.5" rx="1.6" ry="2.5" fill="#f00000"/>
<ellipse cx="264.9" cy="143.7" rx="1.6" ry="2.5" fill="#f00000"/>
<ellipse cx="276.8" cy="145" rx="1.6" ry="2.5" fill="#f00000"/>
<ellipse cx="295.9" cy="145.8" rx="1.6" ry="2.5" fill="#f00000"/>
<ellipse cx="307.3" cy="150.3" rx="1.6" ry="2.5" fill="#f00000"/>
<ellipse cx="258.8" cy="154.8" rx="1.6" ry="2.5" fill="#f00000"/>
<ellipse cx="275" cy="156.9" rx="1.6" ry="2.5" fill="#f00000"/>
<ellipse cx="291.4" cy="154.8" rx="1.6" ry="2.5" fill="#f00000"/>
<ellipse cx="302.5" cy="164.3" rx="1.6" ry="2.5" fill="#f00000"/>
<ellipse cx="284.8" cy="165.4" rx="1.6" ry="2.5" fill="#f00000"/>
<ellipse cx="269.4" cy="170.7" rx="1.6" ry="2.5" fill="#f00000"/>
<ellipse cx="294" cy="172.3" rx="1.6" ry="2.5" fill="#f00000"/>
<ellipse cx="311" cy="111.3" rx="1.6" ry="2.5" fill="#f00000"/>
<ellipse cx="247.4" cy="133.6" rx="1.6" ry="2.5" fill="#f00000"/>
<ellipse cx="337.8" cy="170.7" rx="1.6" ry="2.5" fill="#f00000"/>
<ellipse cx="260.1" cy="199.9" rx="1.6" ry="2.5" fill="#f00000"/>
<circle cx="278.7" cy="87.9" r="1.55" fill="#1414d2"/>
<circle cx="308.4" cy="92.6" r="1.55" fill="#1414d2"/>
<circle cx="259.8" cy="95.6" r="1.55" fill="#1414d2"/>
<circle cx="290.6" cy="99.8" r="1.55" fill="#1414d2"/>
<circle cx="236.1" cy="110.6" r="1.55" fill="#1414d2"/>
<circle cx="322.4" cy="105.9" r="1.55" fill="#1414d2"/>
<circle cx="336.5" cy="108.5" r="1.55" fill="#1414d2"/>
<circle cx="246.3" cy="123.7" r="1.55" fill="#1414d2"/>
<circle cx="329.9" cy="131.6" r="1.55" fill="#1414d2"/>
<circle cx="225.6" cy="135.6" r="1.55" fill="#1414d2"/>
<circle cx="343.6" cy="135.1" r="1.55" fill="#1414d2"/>
<circle cx="340.2" cy="145.7" r="1.55" fill="#1414d2"/>
<circle cx="228.3" cy="155.5" r="1.55" fill="#1414d2"/>
<circle cx="339.7" cy="180.2" r="1.55" fill="#1414d2"/>
<circle cx="234.1" cy="181.2" r="1.55" fill="#1414d2"/>
<circle cx="254.8" cy="180.7" r="1.55" fill="#1414d2"/>
<circle cx="307.3" cy="183.3" r="1.55" fill="#1414d2"/>
<circle cx="330.9" cy="191.3" r="1.55" fill="#1414d2"/>
<circle cx="244.7" cy="198.7" r="1.55" fill="#1414d2"/>
<circle cx="280.8" cy="204.6" r="1.55" fill="#1414d2"/>
<circle cx="304.7" cy="206.7" r="1.55" fill="#1414d2"/>
<circle cx="270.7" cy="209.3" r="1.55" fill="#1414d2"/>
<path d="M476.6 108.2l1-.1 .9-.3 .8-.5 .6-.9 .3-.9 0-1 -.4-.9 -.6-.8 -.8-.7 -.8-.6 -.6-.7 -.3-1 0-1 .1-1 .4-.9 .7-.7 1-.1 1 .1 .9 .3 .9 .4 1 .4 .9 .4 .9 .3 1 .3 .9 .4 .9 .4 .9 .5 .7 .7 .6 .8 .6 .8 .6 .8 .4 .9 .1 1 -.4 .9 -.8 .6 -.9 .4 -1 .3 -1 .1 -1 0 -.9-.1 -1-.2 -1-.2 -.8-.6 -.5-.8 -.1-1 .3-1 .6-.7 .9-.6 .9-.4 .9-.5 .9-.4 .9-.4 .9-.3 1-.3 1 0 .9 .3 .7 .7 .3 1 .2 1 -.2 .9 -.4 1 -.5 .8 -.6 .8 -.7 .7 -.7 .7 -.4 1 .1 1 .2 .9 .4 .9 .5 .9 .4 .9 .4 .9 .4 1 .2 1 .3 .9 .4 .9 .5 .9 .7 .7 .8 .5 1 .3 1 .1 1 0 1 0 1 .1 .8 .5 .3 1 -.2 1 -.3 .9 -.5 .9 -.7 .6 -1 .3 -.9-.3 -.8-.6 -.3-1 0-1 .3-.9 .5-.9 .5-.9 .4-.8 .6-.8 .9-.5 1-.2 .9-.3 1-.4 .8-.4 .9-.5 1-.4 .9-.3 .9-.5 .8-.6 .9-.4 1-.2 .9 .3 .7 .7 .4 1 -.1 .9 -.4 .9 -.8 .7 -.9 .4 -1 .1 -1 .1 -1-.1 -1-.1 -.9-.3 -1-.3 -1-.2 -1-.1 -.9 .2 -.9 .5 -.4 .9 0 1 .4 .9 .7 .7 .8 .6 .9 .5 .9 .5 .9 .4 .8 .5 .8 .6 .7 .8 .6 .8 .4 .9 0 1 -.1 1 -.3 .9 -.5 .9 -.9 .5 -.9 .1 -.9-.5 -.6-.8 -.1-1 .2-1 .5-.9 .6-.7 .8-.7 .8-.6 .9-.4 .9-.4 .9-.3 1-.3 1-.2 .9 .2 1 .4 .8 .5 .7 .8 .4 .9 .2 .9 .1 1 -.3 1 -.6 .8 -.8 .5 -.9 .5 -.9 .5 -.8 .6 -.5 .8 -.2 1 .3 1 .5 .8 .6 .8 .7 .8 .8 .6 .8 .6 .9 .4 1 .2 1 0 1 0 .9-.2 1-.3 .9-.3 1-.3 1-.2 .9-.2 1-.2 1 0 1-.1 1-.2 .9-.4 .7-.7 .4-.9 0-1 -.3-.9 -.5-.9 -.6-.8 -.7-.7 -.8-.6 -.8-.6 -1-.3 -.9-.2 -1 .1 -1 .3 -.8 .6 -.4 .9 -.3 1 0 1 .2 .9 .5 1 .5 .8 .6 .8 .6 .8 .6 .8 .5 .8 .6 .9 .6 .8 .7 .7 .8 .5 .9 .5 .8 .6 .8 .6 .7 .7 .6 .8 .5 .9 .4 .9 .4 .9 .5 .9 .5 .8 .3 .9 -.6 .8 -.9 .3 -1-.2 -.9-.4 -.8-.6 -.7-.7 -.5-.9 -.5-.9 -.3-.9 -.3-1 -.3-.9 -.5-.9 -.5-.8 -.7-.8 -.8-.6 -.9-.4 -.9-.3 -1 0 -1 .4 -.7 .6 -.7 .8 -.3 .9 0 1 .4 .9 .6 .8 .8 .6 .8 .6 .8 .6 .9 .5 .9 .4 .9 .5 .9 .4 .9 .5 .9 .3 1 .3 .9 .2 1 .3 1 .3 .9 .4 .8 .6 .6 .8 .3 .9 0 1 -.3 1 -.7 .7 -.7 .6 -.9 .6 -.9 .4 -.9 .4 -1 .2 -1 .3 -1 .1 -1 .1 -.9 0 -1-.1 -1-.4 -.9-.4 -1-.2 -.9-.2 -1-.1 -1 0 -1 0 -1-.1 -1-.1 -1-.1 -1 0 -1-.1 -1 0 -1 .2 -.9 .3 -1 .3 -.6 .8 -.1 1 .2 1 .3 .9 .5 .9 .7 .7 .8 .6 .9 .4 .9 .6 .7 .6 .7 .8 .6 .8 .6 .8 .6 .8 .6 .7 .7 .8 .6 .8 .4 .9 .5 .9 .5 .9 .6 .8 .7 .6 .9 .5 .9 .3 1 .1 1-.1 1-.2 .8-.6 .5-.9 .2-.9 -.2-1 -.3-1 -.3-.9 -.6-.9 -.7-.6 -.9-.4 -1-.1 -1 0 -1 .1 -1 .2 -.9 .3 -1 .2 -1 .1 -1 .2 -1 .2 -.9 .2 -1 .3 -1 .3 -.9 .3 -1 .3 -.9 .4 -.9 .4 -.9 .5 -.8 .5 -.8 .6 -.8 .6 -.8 .6 -.9 .4 -1 .4 -.9 .3 -1 .1 -1-.1 -.9-.3 -.8-.6 -.6-.8 -.3-1 0-1 .3-.8 1-.4 1 0 1-.1 1-.1 .9-.2 1 0 1-.1 1 .1 1 .2 .9 .4 .7 .8 .2 .9 -.1 1 -.4 .9 -.8 .7 -.9 .4 -.9 .5 -.9 .3 -.9 .4 -.9 .4 -1 .4 -.9 .3 -.9 .3 -1 .4 -.9 .3 -1 .3 -1 .2 -1 .1 -.9-.3 -.9-.4 -.8-.6 -.7-.7 -.6-.8 -.4-.9 -.1-1 .3-1 .8-.6 1-.1 1 .2 .8 .5 .8 .6 .8 .7 .6 .7 .5 .9 .4 .9 .1 1 .1 1 -.1 1 -.1 1 -.3 1 -.1 1 0 1 .2 .9 .4 1 .4 .9 .6 .8 .5 .9 .4 .9 .2 .9 .1 1 -.2 1 -.6 .8 -.8 .5 -1 0 -1-.3 -.8-.6 -.5-.8 -.4-1 -.2-.9 0-1 0-1 .1-1 .2-1 .3-1 .1-1 .1-1 0-1 -.1-1 -.3-.9 -.4-.9 -.7-.8 -.7-.7 -.9-.4 -1-.1 -1 .1 -.9 .3 -.9 .6 -.7 .6 -.6 .8 -.6 .9 -.5 .8 -.7 .8 -.6 .8 -.4 .8 -.3 1 .2 1 .4 .9 .7 .7 .8 .6 .9 .5 .9 .4 .8 .6 .6 .8 .5 .9 .4 .9 .2 1 .2 1 0 .9 0 1 -.1 1 -.4 .9 -.8 .6 -1 .3 -1-.1 -1-.1 -.9-.2 -1-.3 -1-.2 -1-.1 -1 .1 -1 .1 -.9 .2 -1 .1 -1 0 -1-.1 -1-.3 -.9-.4 -.9-.5 -.8-.6 -.9-.5 -.8-.4 -.9-.5 -.8-.6 -.8-.7 -.6-.7 -.6-.9 -.4-.8 -.4-1 -.3-.9 -.3-1 -.2-1 -.2-1 -.2-.9 -.1-1 -.2-1 0-1 0-1 .2-1 .3-.9 .4-.9 .6-.8 .8-.6 1-.4 1 .1 .8 .5 .7 .7 .4 .9 .1 1 -.2 1 -.4 .9 -.7 .7 -.9 .5 -.9 .4 -1 .2 -1 0 -1-.2 -.9-.3 -1-.4 -1-.2 -.9 0 -1 .2 -.9 .5 -.6 .8 -.3 1 -.1 .9 .2 1 .3 1 .6 .8 .7 .7 .8 .5 .9 .4 .9 .5 .8 .6 .7 .8 .5 .8 .4 .9 .2 1 0 1 0 1 .1 1 .3 1 .3 .9 .6 .8 .8-.4 .1-1 0-1 0-1 -.1-1 -.3-1 -.5-.8 -.6-.8 -.6-.8 -.7-.7 -.6-.8 -.5-.9 -.2-1 -.4-.9 -.4-.9 -.6-.8 -.7-.8 -.7-.7 -.6-.7 -.6-.8 -.6-.8 -.7-.8 -.8-.5 -1-.3 -1 0 -1 .2 -.9 .4 -.9 .4 -1 .3 -1 .1 -.9 .2 -1 0 -1-.1 -1-.2 -1-.3 -.9-.4 -.8-.6 -.7-.7 -.5-.9 -.3-.9 -.1-1 .3-1 .6-.7 .9-.5 1-.1 .9 .3 .9 .5 .8 .6 .7 .7 .5 .9 .3 1 0 1 -.1 .9 -.4 1 -.6 .7 -.9 .6 -.8 .5 -.9 .4 -.9 .5 -1 0 -.9-.4 -.7-.7 -.6-.9 -.4-.9 -.3-.9 -.2-1 -.1-1 -.1-1 .1-1 .1-1 .2-1 .2-1 .1-1 .1-.9 .1-1 .1-1 0-1 .2-1 0-1 -.1-1 -.5-.9 -.9-.4 -1 .2 -.8 .5 -.5 .9 -.1 1 .3 1 .6 .8 .9 .3 1-.2 .8-.6 .4-.9 .3-1 -.1-1 -.4-.9 -.7-.6 -.9-.5 -1-.3 -1 0 -1 .1 -.9 .4 -.8 .5 -.8 .6 -.9 .5 -1 .3 -1 0 -1-.2 -.9-.3 -.8-.6 -.4-.9 .1-1 .5-.8 .6-.8 .7-.7 .7-.7 .7-.7 .9-.5 1-.2 1 .1 1 .2 .9 .4 .6 .8 .2 1 -.2 .9 -.3 1 -.4 .9 -.5 .9 -.5 .8 -.7 .8 -.8 .6 -.9 .3 -1 .1 -1-.1 -.9-.3 -.7-.8 -.4-.9 -.2-1 -.2-.9 0-1 0-1 -.1-1 -.1-1 -.1-1 -.1-1 -.2-1 -.4-.9 -.6-.9 -.6-.7 -.7-.8 -.6-.8 -.3-.9 -.1-1 .1-1 .4-.9 .5-.9 .6-.8 .6-.7 .9-.5 1-.3 .9-.2 1-.3 1-.2 1-.1 .9 .1 1 .1 1 .2 1 .1 1 0 1 0 1-.1 1-.2 1-.3 .8-.5 .5-.8 .1-1 -.5-.9 -.9-.5 -.9-.2 -1 0 -1 .2 -.9 .4 -.9 .5 -.7 .7 -.6 .8 -.6 .8 -.6 .8 -.6 .8 -.7 .7 -.8 .7 -.8 .5 -1 0 -.9-.5 -.4-.9 .2-1 .5-.8 .8-.6 .8-.6 .9-.5 .9-.4 .9-.4 1-.3 .9-.3 1-.3 1 0 1 .3 .9 .3 1 .2 1 .1 1-.1 .9-.3 .8-.5 .8-.7 .7-.7 .8-.6 .8-.6 .8-.6 .8-.6 .6-.8 .5-.9 .2-.9 -.3-1 -.5-.9 -.7-.7 -.8-.6 -.8-.5 -1-.3 -1-.1 -1 .2 -.9 .3 -1 .2 -1 .2 -1 0 -1-.1 -1-.2 -.9-.3 -.9-.5 -.7-.6 -.6-.9 -.2-.9 .2-1 .4-.9 .6-.8 .7-.7 .9-.5 .8-.5 .9-.6 .5-.8 .3-.9 -.2-1 -.5-.9 -.8-.6 -.9-.4 -1-.2 -1-.1 -1-.2 -1-.1 -.9 .3 -.6 .8 0 1 .4 .9 .6 .8 .7 .7 .8 .6 1 .4 .9 .2 1 .3 1 .1 1 .1 1-.1 .9-.2 .9-.6 .5-.8 .2-1 -.3-1 -.5-.8 -.8-.7 -.8-.6 -.8-.5 -.8-.6 -.5-.9 0-1 .5-.9 .7-.6 .9-.5 1-.3 1-.1 1-.1 1-.1 .9-.1 1-.1 1-.1 1 0 1-.1 1 0 1 0 1-.1 1 0 1 .2 1 .3 .8 .5 .8 .6 .7 .8 .5 .8 .4 .9 .2 1 0 1 -.1 1 0 1 0 1 .1 1 .2 1 .4 .9 .3 1 .2 .9 -.1 1 -.9 .3 -1-.2 -.9-.4 -.9-.4 -.9-.5 -.9-.5 -.8-.6 -.6-.8 -.5-.8 -.4-1 -.1-1 .1-1 .2-.9 .3-1 .3-.9 .5-.9 .6-.8 .9-.5 .9-.4 1-.2 1 .1 .9 .2 1 .3 .9 .3 1 .2 1 .4 .8 .5 .7 .7 .4 .9 .2 1 0 1 -.1 1 -.6 .8 -1-.1 -.8-.6 -.5-.8 -.3-1 .1-.9 .4-1 .6-.8 .7-.7 .8-.6 .8-.6 .7-.7 .6-.8 .5-.8 .5-.9 .4-.9 .5-.9 .5-.9 .7-.7 .9-.5 .9-.3 .9-.3 1-.1 1 .1 1 .2 1 .2 .9 .3 1 .4 .9 .4 .8 .5 .7 .8 .6 .8 .4 .9 .3 .9 .2 1 -.2 1 -.4 .9 -.7 .7 -.8 .6 -1 .2 -1-.2 -.8-.6 -.8-.6 -.6-.8 -.4-.9 0-1 .1-1 .1-1 -.1-1 .1-1 .1-1 .3-1 .6-.8 .7-.6 .9-.4 1-.1 1 .2 .9 .4 .7 .7 .5 .9 .3 .9 0 1 -.1 1 -.3 1 -.4 .9 -.6 .8 -.6 .8 -.7 .7 -.9 .4 -1 .3 -1 .2 -1 .1 -.9-.3 -.9-.4 -.9-.5 -.7-.8 -.5-.8 -.3-1 0-1 .3-.9 .6-.8 .9-.5 1-.2 1 0 1 0 1 .2 .9 .2 1 .2 1 .1 1 .1 1 .2 1 .2 1 .2 .9 .1 1 .2 1 .2 1 .2 1 0 1-.1 .9-.4 .7-.7 .5-.9 .4-.8 .4-1 .3-.9 .2-1 .1-1 0-1 -.1-1 0-1 .1-1 .4-.9 .7-.6 1-.3 1 0 .9 .5 .7 .6 .4 .9 0 1 -.3 1 -.5 .9 -.4 .9 -.4 .9 -.5 .8 -.6 .9 -.6 .8 -.7 .7 -.8 .6 -.8 .5 -.9 .6 -.7 .6 -.7 .7 -.6 .9 -.5 .8 -.4 .9 -.1 1 0 1 .1 1 .3 1 .3 .9 .3 1 .5 .8 .8 .6 1 .3 1-.2 .8-.4 .8-.7 .7-.7 .5-.8 .5-.9 .5-.9 .6-.8 .7-.7 .9-.5 .8-.5 .9-.5 .9-.5 .8-.6 .7-.7 .6-.8 .6-.8 .6-.9 .6-.7 .7-.7 .8-.6 .9-.5 .9-.4 .9-.4 1-.2 1 0 1 .1 .9 .5 .7 .7 .3 .9 .1 1 -.1 1 -.2 1 -.3 .9 -.3 1 -.1 1 .1 1 .3 .9 .3 1 .5 .9 .4 .8 .5 1 .2 .9 .1 1 0 1 -.2 1 -.3 .9 -.5 .9 -.7 .7 -.9 .5 -.9 .5 -.9 .2 -1-.1 -1-.3 -.8-.5 -.7-.7 -.5-.9 -.3-.9 -.2-1 -.1-1 .1-1 .3-1 .5-.8 .8-.6 .9-.4 1-.2 1 0 .9 .2 1 .3 .9 .5 .8 .5 .8 .6 .6 .8 .3 1 0 1 -.3 .9 -.5 .9 -.8 .7 -.8 .5 -1 .3 -.9 .3 -1 .3 -.9 .3 -.9 .6 -.4 .8 .1 1 .5 .9 .8 .6 .9 .4 1 .2 1 0 .9-.2 1-.3 1 0 1 .2 .9 .3 1 .3 1 0 .9-.4 .7-.7 0-1 -.6-.7 -1-.3 -1 .2 -.9 .4 -.8 .6 -.6 .7 -.5 .9 -.1 1 .1 1 .4 .9 .7 .7 .9 .5 1 .1 1-.2 .9-.5 .8-.6 .5-.8 .2-1 -.1-1 -.6-.8 -.8-.6 -1-.2 -1-.1 -1 .1 -.9 .3 -.9 .6 -.7 .7 -.3 .9 -.1 1 .3 1 .4 .9 .6 .8 .7 .7 .8 .5 1 .2 1 0 1-.2 .9-.4 .9-.4 .9-.4 1-.3 .9-.3 1-.3 1-.1 1-.1 1-.1 1-.1 1 .1 .9 .4 .4 .9 .1 1 -.2 1 -.1 1 -.1 1 -.1 1 -.2 .9 -.4 1 -.5 .8 -.7 .8 -.7 .7 -.7 .7 -.7 .6 -.8 .7 -.7 .7 -.6 .8 -.6 .8 -.4 .9 -.3 1 0 1 .2 .9 .4 .9 .7 .8 .9 .4 .9 .2 1 0 1-.2 1-.3 .9-.4 .8-.6 .4-.9 .1-.9 -.2-1 -.4-1 -.4-.9 -.5-.8 -.7-.8 -.8-.5 -1-.3 -1-.1 -1 0 -.9 .2 -1 .3 -.9 .5 -.8 .5 -.9 .5 -.8 .5 -.9 .5 -.9 .5 -.8 .5 -.8 .6 -.8 .6 -.9 .5 -.9 .5 -.8 .5 -.9 .5 -.7 .7 -.5 .8 -.4 1 -.1 1 -.1 1 0 1 0 1 .1 1 .2 .9 .5 .9 .7 .7 .9 .5 1 .2 1 .1 .9-.4 .9-.5 .6-.8 .3-.9 -.1-1 -.5-.9 -.8-.5 -1-.2 -1 .1 -.9 .3 -.9 .5 -.9 .5 -.8 .5 -.8 .6 -.8 .6 -.8 .6 -.7 .7 -.8 .6 -1 .4 -1 0 -.9-.1 -.9-.5 -.8-.7 -.3-.9 .3-.9 .8-.6 1-.3 1 0 1 .1 .9 .4 .9 .5 .8 .6 .9 .4 .9 .4 .9 .5 .9 .3 1 .3 1 .3 .9 .2 1 .3 .9 .4 1 .3 .9 .4 .8 .5 .7 .8 .2 1 0 1 -.3 .9 -.6 .8 -.6 .8 -.6 .8 -.5 .9 -.5 .8 -.4 1 -.4 .9 -.3 1 .1 .9 .2 1 .2 1 -.1 1 -.7 .6 -1 .2 -1-.1 -1-.3 -.9-.4 -.9-.5 -.7-.7 -.6-.8 -.6-.8 -.6-.8 -.7-.7 -.7-.7 -.7-.7 -.6-.8 -.6-.8 -.5-.9 -.7-.7 -.6-.8 -.6-.8 -.7-.8 -.8-.6 -.9-.4 -.9-.2 -1-.1 -1 .1 -1 .3 -.8 .5 -.7 .8 -.4 .9 -.2 1 0 1 .1 1 .4 .9 .5 .8 .7 .7 .9 .5 1 0 1-.3 .6-.8 .2-.9 -.2-1 -.6-.8 -.8-.6 -.9-.4 -1-.2 -1 0 -.9 .4 -.6 .8 -.1 1 .3 .9 .6 .8 .7 .8 .7 .7 .6 .8 .5 .8 .3 1 .2 .9 0 1 -.2 1 -.4 .9 -.7 .8 -.9 .4 -.9 .3 -1 0 -1-.4 -.7-.6 -.7-.7 -.7-.8 -.8-.6 -.8-.6 -.8-.5 -.9-.6 -.7-.6 -.6-.8 -.2-1 .3-.9 .7-.7 .9-.5 1-.2 1 .2 .9 .4 .6 .7 .5 .9 .4 .9 .2 1 0 1 0 1 0 1 0 1 .1 1 -.1 1 -.2 1 -.3 .9 -.3 1 -.5 .9 -.6 .7 -.8 .6 -1 .4 -.9 .3 -1 .3 -1 .1 -1 0 -.9-.2 -1-.4 -.8-.5 -.8-.6 -.7-.8 -.6-.8 -.3-.9 -.2-1 0-1 .2-1 .3-.9 .3-.9 .5-.9 .7-.8 .7-.7 .6-.8 .4-.9 .2-1 -.1-1 -.5-.8 -.7-.6 -1-.4 -1 0 -.9 .3 -.8 .6 -.7 .7 -.7 .8 -.8 .6 -.8 .5 -1 .3 -1 0 -.9-.4 -.8-.7 -.5-.9 -.1-.9 .3-1 .8-.6 1 .2 .7 .7 .3 .9 -.1 1 -.3 .9 -.7 .7 -1 .2 -1-.1 -1-.2 -.9-.3 -1-.1 -1 .4 -.6 .7 -.3 1 .1 1 .5 .9 .7 .7 .9 .4 .9 .2 1-.1 .9-.5 .7-.8 .4-.9 .3-.9 0-1 -.5-.9 -.8-.5 -1 0 -1 .3 -.8 .5 -.7 .7 -.7 .8 -.7 .7 -.7 .7 -.9 .5 -.9 .4 -.9 .4 -.9 .5 -.7 .7 -.6 .8 -.6 .8 -.5 .9 -.5 .8 -.5 .9 -.5 .9 -.7 .7 -.8 .5 -1 .2 -1-.2 -.8-.5 -.5-.9 .1-1 .5-.9 .8-.6 1 0 .8 .4 .5 .9 0 1 -.3 .9 -.6 .8 -.9 .6 -.9 .3 -1 .1 -1 .1 -1 .1 -1-.2 -.8-.5 -.6-.8 -.3-1 -.2-1 0-1 .3-.9 .6-.8 .8-.7 .9-.3 1-.2 .9 .2 .8 .7 .4 .9 0 1 -.2 1 -.3 .9 -.5 .9 -.8 .6 -.9 .3 -1-.1 -.9-.5 -.6-.8 -.3-1 -.1-1 .1-1 .1-1 0-1 -.2-1 -.1-1 -.1-.9 -.3-1 -.3-1 -.4-.9 -.5-.8 -.6-.8 -.4-.9 -.2-1 .1-1 .6-.8 .8-.6 1-.3 1 0 .9 .2 .9 .5 .7 .7 .5 .9 .2 1 0 1 -.1 1 -.3 .9 -.3 1 -.5 .8 -.6 .8 -.8 .6 -.9 .5 -.9 .5 -.8 .5 -.9 .5 -.9 .4 -.9 .5 -1 .2 -1-.1 -.9-.4 -.9-.4 -.8-.6 -.7-.7 -.8-.6 -.9-.6 -.8-.5 -.9-.4 -.8-.7 -.6-.7 -.6-.9 -.4-.8 -.3-1 -.3-1 -.2-.9 -.4-1 -.4-.9 -.5-.9 -.4-.9 -.4-.9 -.2-1 0-1 .4-.9 .8-.5 1-.3 .9 .1 1 .3 .8 .6 .7 .7 .7 .7 .8 .7 .8 .5 1 .2 1 0 1-.3 .9-.5 .7-.6 .7-.8 .5-.8 .4-.9 .3-1 .2-1 -.1-1 -.2-.9 -.4-1 -.5-.8 -.7-.7 -.9-.5 -.9-.5 -.8-.5 -.9-.5 -.9-.4 -.9-.5 -.9-.5 -.8-.5 -.9-.6 -.8-.6 -.7-.6 -.7-.7 -.7-.7 -.8-.7 -.8-.6 -.8-.6 -.9-.3 -1 0 -.9 .4 -.7 .7 -.3 1 .2 1 .4 .9 .4 .9 .3 1 .1 1 .1 1 0 1 -.1 .9 -.3 1 -.5 .9 -.7 .6 -.9 .4 -1-.1 -.7-.7 -.3-.9 .1-1 .3-1 .5-.9 .3-.9 .3-.9 0-1 -.2-1 -.5-.9 -.7-.7 -.7-.7 -.5-.9 -.1-.9 .5-.9 .6-.8 .8-.7 .8-.5 1-.2 1 .1 1 .3 .9 .2 1 .1 1 .1 1-.1 1-.3 .9-.4 .9-.5 .8-.6 .9-.5 .8-.4 .9-.5 .9-.4 .9-.5 .8-.6 .7-.7 .5-.8 .3-1 -.1-1 -.4-.9 -.7-.7 -.8-.6 -.8-.5 -1-.4 -1-.2 -1-.1 -1-.1 -.9-.2 -1-.1 -1-.2 -.9-.5 -.8-.5 -.8-.7 -.6-.8 -.5-.8 -.5-.9 -.3-1 -.4-.9 -.5-.9 -.6-.8 -.7-.6 -.8-.6 -.8-.7 .4-.9 .9-.5 .9-.1 1-.1 1 0 1-.1 1 .1 1 0 1 .2 1 .3 .8 .5 .9 .5 .8 .6 .8 .6 .8 .6 .6 .8 .6 .8 .3 1 -.1 1 -.7 .7 -.9 .3 -1-.1 -.9-.5 -.6-.7 -.2-1 .4-.9 .8-.6 1-.3 1-.2 1 0 .9 .1 1 .3 .9 .4 .9 .5 .8 .5 .9 .5 .9 .5 .8 .5 1 .3 1 .1 .9-.4 .5-.8 -.1-1 -.4-.9 -.7-.7 -.9-.5 -.9-.3 -1-.3 -.9-.3 -.9-.6 -.7-.7 -.5-.8 -.1-1 .1-1 .2-1 .5-.9 .5-.8 .6-.8 .9-.6 .8-.5 .8-.6 .8-.6 .4-.9 -.3-.9 -.8-.6 -1-.1 -1 .2 -1 .1 -1 0 -1 .1 -.9 .2 -.9 .4 -.7 .7 -.4 .9 .2 1 .6 .9 .7 .6 .9 .5 .9 .3 1 .3 .9 .3 1 .1 1-.1 1-.1 1-.3 .9-.3 .9-.4 .9-.5 .8-.6 .8-.6 .8-.6 .9-.4 1-.2 .8-.7 .4-.8 -.1-1 -.3-1 -.6-.8 -.6-.8 -.8-.6 -.9-.3 -1-.2 -1-.1 -1-.2 -.9-.3 -.9-.5 -.7-.8 -.3-.9 -.1-1 .3-1 .6-.8 .8-.5 1-.3 1 0 1 .2 .8 .6 .7 .7 .4 .9 0 1 -.2 1 -.5 .8 -.7 .8 -.7 .7 -.7 .7 -.7 .7 -.7 .8 -.5 .8 -.3 1 0 1 .4 .9 .5 .8 .9 .6 .9 .1 1-.2 .9-.4 .8-.6 .8-.6 .6-.8 .3-1 .3-.9 .3-1 .4-.9 .5-.9 .6-.7 .8-.7 .9-.4 1-.1 1 0 .9 .4 .8 .6 .6 .8 .3 1 0 1 -.1 .9 -.1 1 0 1 .4 1 .6 .7 .9 .4 1 .1 1-.3 .8-.6 .7-.7 .5-.8 .5-.9 .4-.9 .4-.9 .6-.9 .6-.8 .6-.7 .6-.8 .7-.7 .7-.8 .5-.8 .4-1 0-1 -.3-.9 -.7-.7 -1-.4 -1 0 -.9 .1 -1 .3 -.9 .5 -.8 .6 -.7 .6 -.7 .8 -.6 .8 -.5 .9 -.3 .9 0 1 .4 .9 .7 .7 .9 .5 1 .1 1 .2 .9 .1 1 0 1 0 1-.3 .8-.5 .6-.8 .3-1 .1-1 -.1-1 -.2-1 -.2-.9 -.3-1 0-1 .4-.9 .8-.6 1 0 .9 .5 .6 .8 .2 1 -.1 .9 -.3 1 -.4 .9 -.5 .9 -.5 .8 -.7 .8 -.7 .7 -.7 .7 -.6 .8 -.5 .9 -.3 .9 -.1 1 .3 1 .4 .9 .7 .6 1 .2 1-.1 1-.2 1-.1 1-.2 1-.1 1-.1 1-.1 1 .1 1 .1 1 0 1 0 .9 0 1-.3 .9-.4 .7-.7 .5-.9 .2-1 -.1-1 -.5-.8 -.8-.6 -1-.2 -1 .1 -.9 .5 -.5 .8 -.2 .9 .1 1 .4 1 .6 .8 .8 .5 1 .2 1-.3 .6-.8 .4-.9 0-1 0-1 -.1-1 -.1-1 .1-1 .4-.9 .6-.8 .8-.6 .9-.5 .9-.3 1-.3 .9-.2 1-.3 1-.3 .9-.2 1-.2 1 .1 .9 .4 .8 .6 .8 .6 .7 .7 .7 .8 .5 .8 .2 1 -.4 .9 -.7 .7 -1 .2 -1-.2 -.9-.4 -.9-.4 -.7-.7 -.6-.8 -.5-.9 -.2-1 .2-.9 .4-.9 .7-.8 .8-.5 1-.2 1 .1 .9 .4 .7 .6 .4 .9 0 1 -.4 1 -.6 .8 -.6 .7 -.8 .7 -.7 .7 -.9 .5 -.8 .6 -.9 .4 -.9 .4 -.9 .4 -.9 .5 -.6 .7 -.4 1 -.2 .9 0 1 0 1 .2 1 .5 .8 .9 .6 .9 .2 1-.2 .9-.5 .6-.8 .6-.8 .7-.7 .7-.7 .8-.7 .6-.7 .7-.8 .7-.7 .7-.7 .9-.5 .9-.4 .9-.3 1-.1 1 0 1 .2 .9 .4 .9 .5 .7 .7 .7 .7 .6 .8 .4 .9 .4 1 .3 .9 .2 1 0 1 -.1 1 0 1 0 1 .2 1 .2 1 .3 .9 .4 .9 .3 1 .2 1 .1 .9 0 1 -.2 1 -.4 1 -.5 .8 -.6 .8 -.9 .5 -.9 .3 -1 .1 -1 0 -1-.1 -.9-.4 -.9-.5 -.7-.7 -.8-.6 -.9-.5 -.8-.5 -.9-.5 -.7-.8 -.2-.9 .1-1 .6-.8 .9-.5 .9-.1 1 .3 .8 .6 .7 .7 .4 .9 .3 1 0 1 -.2 1 -.2 .9 -.3 1 -.3 .9 -.5 .9 -.5 .9 -.2 1 -.1 1 .1 1 .4 .9 .5 .8 .7 .7 1 .4 1-.1 .9-.4 .7-.8 .4-.9 .1-1 -.1-.9 -.3-1 -.3-1 -.3-.9 -.2-1 -.1-1 .4-.9 .7-.6 1-.3 1 .1 .9 .4 .7 .7 .6 .9 .4 .9 .4 .9 .4 .9 .4 .9 .5 .9 .5 .8 .6 .8 .7 .7 .8 .7 .8 .6 .9 .5 .9 .2 1-.2 .8-.6 .6-.8 .3-1 .1-.9 0-1 -.3-1 -.6-.8 -.7-.7 -1-.4 -.9 .1 -1 .4 -.9 .4 -.8 .5 -.9 .5 -.8 .7 -.6 .7 -.6 .9 -.4 .9 -.3 .9 -.5 .9 -.6 .8 -.7 .7 -.6 .8 -.4 .9 -.1 1 .3 .9 .6 .8 .9 .4 1 .1 1 0 1 0 1 .1 1 .4 .7 .7 .4 .9 .3 .9 0 1 -.2 1 -.3 1 -.5 .8 -.6 .8 -.7 .7 -.9 .5 -.9 .5 -.9 .5 -.8 .5 -.8 .6 -.8 .5 -.9 .6 -.9 .5 -.8 .5 -.9 .4 -.9 .4 -1 .4 -.9 .3 -1 .2 -1 .1 -1 0 -1-.2 -.9-.3 -.9-.4 -.9-.5 -.9-.4 -.9-.4 -1-.2 -1-.2 -1 0 -1 0 -1 .1 -.6 .5 .6 .8 .9 .4 1 .1 1 .2 .9 .4 .9 .3 1 .3 .9 .3 1 .3 1 .2 1-.1 .9-.3 .7-.8 .3-.9 -.1-1 -.3-1 -.2-1 0-.9 .5-.9 .8-.7 .9-.2 1 .2 .9 .3 .8 .6 .8 .7 .6 .7 .6 .9 .4 .9 .4 .9 .3 .9 .3 1 .3 1 .3 .9 .3 1 .2 .9 .1 1 -.1 1 -.3 1 -.5 .8 -.8 .6 -.9 .4 -1 .2 -1 0 -1-.2 -1-.3 -.9-.4 -.8-.5 -.9-.6 -.9-.3 -.9-.4 -1-.3 -.9-.4 -1-.2 -.9-.3 -.9-.4 -.9-.6 -.7-.7 -.5-.8 -.5-.9 -.2-1 .1-.9 .6-.9 .9-.4 1-.1 1 .2 .9 .4 .8 .6 .7 .7 .5 .8 .6 .9 .6 .8 .6 .8 .5 .8 .5 .9 .3 1 .1 1 -.2 .9 -.3 1 -.2 1 -.4 .9 -.3 .9 -.4 1 -.6 .8 -.6 .8 -.8 .5 -1 .3 -1 .1 -.9-.4 -.9-.5 -.8-.6 -.6-.8 -.4-.9 -.1-1 -.2-1 -.2-1 -.1-.9 -.3-1 -.3-.9 -.7-.8 -.9-.3 -1 .1 -.8 .6 -.5 .9 -.2 1 -.1 1 .2 .9 .3 1 .3 .9 .4 1 .4 .9 .4 .9 .5 .9 .4 .9 .5 .9 .2 .9 -.1 1 -.6 .8 -.9 .4 -1 0 -.9-.6 -.4-.9 -.2-1 .2-.9 .3-1 .4-.9 .3-1 .2-.9 0-1 .1-1 0-1 .1-1 -.1-1 -.4-.9 -.7-.7 -.9-.5 -1 0 -.8 .5 -.6 .8 -.5 .9 -.4 .9 -.3 1 -.4 .9 -.2 1 -.2 1 0 1 -.1 1 -.5 .8 -.8 .5 -1 .1 -.9-.4 -.8-.6 -.8-.6 -.8-.6 -1-.2 -1 0 -.9 .5 -.6 .7 -.5 .9 -.2 1 .1 1 .1 1 .2 1 .4 .9 .6 .8 .8 .5 1 .1 .9-.3 .6-.8 .1-1 -.3-1 -.5-.9 -.7-.7 -.8-.6 -.8-.5 -.9-.6 -.8-.5 -.8-.6 -.9-.5 -.9-.3 -1-.3 -1-.1 -1-.1 -1 0 -.9 .4 -.8 .6 -.5 .8 -.3 1 -.1 1 .1 1 .3 .9 .4 1 .6 .8 .8 .6 .9 .2 1 0 .9-.4 .9-.6 .7-.6 .7-.7 .6-.8 .5-.9 .2-1 .1-1 -.1-1 -.2-1 -.4-.9 -.5-.8 -.7-.7 -.9-.4 -1 0 -1 .4 -.8 .5 -.7 .7 -.6 .8 -.6 .9 -.4 .8 -.5 .9 -.3 1 -.4 .9 -.5 .9 -.4 .9 -.5 .8 -.6 .8 -.7 .8 -.7 .6 -.8 .7 -.8 .6 -.8 .6 -.6 .8 -.5 .8 -.5 1 -.4 .9 -.4 .8 -.6 .9 -.8 .5 -1 0 -.7-.6 -.4-1 0-1 .2-.9 .2-1 .2-1 .4-.9 .5-.9 .5-.9 .5-.8 .6-.8 .6-.8 .6-.8 .6-.8 .6-.9 .3-.9 .1-1 -.2-1 -.2-.9 -.5-.9 -.6-.8 -.9-.5 -.9-.4 -.9-.3 -1-.1 -1 .2 -1 .3 -.9 .4 -.8 .6 -.6 .8 -.5 .9 -.3 .9 -.2 1 -.1 1 .1 1 .1 1 0 1 -.3 .9 -.4 .9 -.7 .8 -.7 .7 -.7 .7 -.7 .7 -.8 .6 -1 .2 -1-.4 -.7-.7 -.5-.8 -.5-.9 -.3-.9 -.3-1 -.1-1 0-1 .2-1 .3-.9 .3-1 .4-.9 .3-.9 .4-1 .5-.8 .5-.9 .7-.7 .8-.5 1-.5 .9-.3 1-.2 1-.2 1-.1 .9-.1 1-.3 .9-.4 .9-.5 .6-.8 .4-.9 0-1 -.2-.9 -.7-.8 -.9-.5 -1-.2 -.9 0 -1-.1 -1-.2 -1-.2 -.9-.4 -1-.3 -.9-.3 -1-.3 -1-.2 -1-.2 -1 0 -.9 .1 -1 .4 -.8 .6 -.6 .8 -.3 .9 -.1 1 0 1 .3 .9 .7 .8 .9 .3 1-.1 1-.3 .8-.5 .6-.8 .5-.9 0-1 -.2-1 -.4-.9 -.5-.9 -.4-.9 -.4-.9 -.5-.9 -.7-.7 -.9-.4 -1-.1 -.9 .2 -.9 .5 -.7 .7 -.6 .8 -.5 .9 -.4 .9 -.7 .7 -.9 .5 -.9 .5 -.9 .3 -1 0 -1-.2 -.9-.4 -.9-.5 -.9-.3 -1-.3 -1-.3 -.8-.6 -.5-.8 -.4-.9 -.1-1 0-1 .2-1 .3-.9 .5-.9 .6-.8 .7-.7 .7-.7 .8-.6 .8-.6 .8-.7 .6-.7 .7-.8 .6-.8 .5-.8 .6-.8 .9-.5 1 .1 .8 .5 .4 .9 -.1 1 -.5 .9 -.8 .6 -.9 .4 -1 0 -.9-.4 -.6-.8 0-1 .5-.8 .8-.6 .9-.4 1-.4 .9-.3 1-.3 .9-.3 1-.3 1-.2 .9 .3 .8 .6 .4 .9 -.1 1 -.5 .8 -.7 .7 -.9 .5 -.9 .5 -.9 .2 -1 .1 -1-.2 -.9-.4 -.9-.5 -.8-.6 -.8-.6 -.7-.7 -.7-.7 -.7-.7 -.7-.8 -.6-.8 -.5-.8 -.5-.9 -.3-.9 -.1-1 0-1 .2-1 .4-.9 .7-.8 .7-.7 .9-.4 1 0 .9 .4 .8 .7 .4 .8 .3 1 .3 1 .2 .9 .4 1 .5 .8 .6 .8 .8 .7 .8 .5 .9 .4 1 0 .9-.4 .5-.9 0-1 -.4-.9 -.5-.9 -.7-.7 -.6-.8 -.7-.7 -.7-.8 -.5-.8 -.4-.9 -.2-1 .2-1 .3-.9 .3-1 .2-.9 .2-1 .2-1 0-1 -.3-1 -.4-.9 -.7-.7 -.8-.6 -.8-.5 -.8-.7 -.9-.5 -.9-.1 -1 .2 -.8 .6 -.4 .9 -.2 1 -.1 1 0 1 .1 1 .2 1 .4 .9 .7 .8 .8 .6 .9 .4 .9 .3 1 .2 1 .1 1-.1 .9-.4 .8-.6 .6-.8 .5-.9 .2-.9 -.2-1 -.4-.9 -.3-1 -.2-.9 -.1-1 -.1-1 -.2-1 -.3-1 -.1-1 -.2-1 .1-1 .3-.9 .7-.7 .9-.4 1 0 .9 .3 .9 .5 .8 .6 .7 .7 .6 .8 .5 .9 .4 .9 .4 .9 .5 .9 .6 .8 .7 .6 .9 .5 1 .2 .9-.2 .7-.7 .4-1 .2-.9 .3-1 .2-1 .3-.9 .9-.6 .9 0 1 .3 .7 .7 .8 .7 .8 .5 .9 .4 1 .3 .6-.8 .1-1 -.2-1 -.2-1 -.3-.9 -.4-.9 -.4-.9 -.5-.9 -.4-.9 -.7-.8 -.8-.6 -.8-.6 -.8-.6 -.8-.6 -.7-.7 -.8-.6 -.8-.6 -.7-.7 -.6-.8 -.6-.8 -.6-.8 -.8-.6 -.9-.4 -1-.1 -1-.1 -1 .2 -.9 .4 -.7 .7 -.5 .9 -.2 1 0 1 .2 1 .1 1 .3 .9 .2 1 .3 .9 .5 1 .6 .8 .7 .6 .9 .4 1 .3 1 .1 1 0 .9-.3 .9-.5 .8-.6 .6-.9 .3-.9 .3-1 0-1 .1-.9 .2-1 .2-1 .4-.9 .7-.8 .8-.6 .9-.4 .8-.5 .8-.6 .7-.8 .6-.8 .5-.8 .5-.9 .2-1 0-1 -.1-1 -.5-.9 -.7-.7 -.8-.5 -.9-.4 -1 0 -.9 .4 -.6 .8 -.3 .9 .2 1 .4 .9 .5 .9 .7 .7 .9 .5 .9 .3 1 .1 1 .2 .9 .4 .9 .5 .8 .6 .8 .7 .8 .4 1 .3 1 0 .9-.4 .8-.5 .8-.7 .6-.8 .4-.9 .2-1 .2-1 .2-1 .1-1 -.2-.9 -.5-.9 -.9-.5 -.9 .2 -.7 .7 -.4 1 0 1 .1 .9 .2 1 .2 1 .4 .9 .3 1 .3 .9 .3 1 .4 .9 .7 .7 .9 .4 1 0 .9-.4 .8-.6 .9-.5 .8-.6 1-.3 1 0 1 .2 .9 .3 .9 .4 1 .1 .9-.4 .5-.9 0-.9 -.4-1 -.5-.8 -.8-.7 -.9-.4 -1-.1 -1 .1 -1-.1 -1-.1 -.9-.4 -.8-.6 -.6-.8 -.3-.9 .1-1 .4-.9 .6-.8 .8-.6 .8-.6 .9-.5 .8-.5 .9-.5 1-.2 1 .1 .9 .3 .8 .6 .6 .8 .6 .8 .6 .8 .8 .7 .9 .4 .9 .4 .9 .3 1 .1 1 .2 1 .3 .8 .5 .7 .7 .3 1 .1 1 -.2 1 -.3 .9 -.4 .9 -.7 .8 -.6 .7 -.7 .8 -.7 .6 -1 .4 -1-.2 -.7-.7 -.4-.9 .1-1 .2-.9 .5-.9 .5-.9 .3-1 .2-.9 .1-1 .1-1 .2-1 .4-.9 .6-.8 .7-.7 .9-.5 .9-.3 1 0 1 .2 1 .2 1 .2 1 .1 1 0 1 0 .9 .5 .6 .7 .4 1 0 1 -.2 .9 -.5 .9 -.8 .7 -.8 .6 -.8 .4 -1 .4 -.9 .3 -1 .2 -.9 .3 -.9 .6 -.6 .8 -.3 .9 .1 1 .5 .9 .9 .4 1 .1 1-.2 .9-.3 .9-.4 .9-.6 .7-.6 .8-.6 .9-.5 .8-.6 .7-.7 .5-.8 .6-.9 .5-.9 .6-.8 .7-.7 .8-.5 1 0 .8 .7 .6 .8 .4 .9 .5 .9 .4 .9 .3 1 .2 .9 .2 1 .3 .9 .5 .9 .4 .9 .5 .9 .3 1 .3 .9 .3 1 .3 1 .1 .9 0 1 0 1 -.2 1 -.4 .9 -.5 .9 -.6 .8 -.8 .6 -.8 .6 -.9 .5 -.9 .3 -1 .1 -1-.1 -.9-.5 -.6-.8 -.3-.9 0-1 .4-1 .6-.7 .8-.7 .7-.7 .8-.7 .7-.7 .7-.7 .6-.7 .7-.8 .6-.8 .7-.7 .7-.7 .7-.7 .7-.7 .9-.5 .9-.4 1-.3 1 0 .9 .4 .7 .7 .5 .8 .2 1 -.2 1 -.3 .9 -.4 1 -.4 .9 -.6 .8 -.6 .8 -.6 .8 -.7 .7 -.7 .7 -.6 .8 -.4 .9 -.3 1 -.3 .9 -.3 1 -.2 .9 -.3 1 -.5 .9 -.5 .9 -.5 .8 -.5 .9 -.6 .8 -.6 .8 -.6 .8 -.6 .7 -.6 .8 -.6 .9 -.3 .9 .2 .9 .8 .6 1 .3 1-.2 .7-.7 .4-.9 0-1 -.5-.8 -.9-.6 -.9-.2 -1 .1 -.9 .5 -.5 .8 .2 .9 .8 .7 .9 .3 1 0 1-.3 .8-.5 .8-.6 .7-.7 .7-.8 .7-.7 .7-.7 .7-.7 .8-.6 .8-.6 .8-.6 .9-.5 .9-.3 1-.1 1 .2 .9 .5 .6 .7 .3 1 -.1 1 -.5 .9 -.6 .8 -.8 .6 -.8 .5 -.9 .5 -.8 .6 -.7 .6 -.8 .7 -.7 .7 -.8 .6 -.8 .7 -.6 .7 -.5 .9 -.3 .9 -.1 1 0 1 .1 1 .2 1 .1 1 0 1 -.4 .9 -.8 .6 -1 .3 -1-.1 -.7-.6 -.4-1 .3-.9 .7-.8 .8-.5 .9-.5 .9-.5 .9-.4 .9-.5 .9-.4 .9-.3 1-.1 1-.3 1-.2 1-.2 1 .1 .9 .3 .8 .6 .8 .6 .8 .6 .8 .6 .7 .8 .7 .7 .4 .9 .2 .9 -.1 1 -.3 1 -.6 .8 -.6 .7 -.8 .7 -.8 .6 -.8 .5 -.8 .7 -.7 .7 -.3 1 .1 1 .2 1 .1 .9 .1 1 -.2 1 -.3 1 -.5 .8 -.5 .9 -.7 .7 -.8 .6 -.9 .4 -.9 .4 -1 .3 -1 0 -1-.1 -.9-.2 -1-.4 -.9-.5 -.8-.5 -.9-.5 -.9-.4 -.9-.4 -.8-.6 -.7-.7 -.6-.8 -.3-1 -.1-1 0-1 .2-.9 .1-1 .2-1 .4-.9 .8-.7 .9-.4 1-.2 .9 .1 .9 .4 .7 .8 .5 .8 .3 1 .2 1 .1 1 0 1 -.2 .9 -.2 1 -.2 1 -.4 .9 -.4 1 -.3 .9 -.2 1 -.1 1 -.1 1 0 1 .3 .9 .5 .9 .8 .6 .9 .3 1-.1 .9-.4 .5-.9 -.1-1 -.5-.9 -.8-.6 -.9-.3 -1 .1 -1 .4 -.8 .5 -.8 .6 -.7 .7 -.8 .7 -.8 .5 -1 .1 -1-.3 -.8-.6 -.6-.8 -.3-.9 -.1-1 0-1 0-1 -.1-1 -.5-.9 -.8-.6 -1 0 -.7 .6 -.3 1 .1 1 .2 .9 .4 1 .5 .8 .7 .8 .7 .7 .8 .6 .8 .5 .9 .4 .9 .5 .8 .6 .7 .7 .6 .8 .5 .9 .3 .9 .4 1 .3 .9 .3 1 .1 1 0 1 -.1 1 -.2 .9 -.6 .9 -.7 .6 -.8 .6 -.9 .4 -1 .3 -1 .3 -.9 .2 -1 0 -1 0 -1-.2 -.9-.4 -.8-.6 -.8-.6 -.5-.9 -.5-.9 -.2-.9 -.1-1 .1-1 .3-1 .5-.8 .5-.9 .4-.9 .3-1 0-1 0-1 -.2-1 -.2-.9 -.3-1 -.4-.9 -.6-.8 -.8-.6 -.9-.1 -.9 .5 -.8 .6 -.7 .8 -.5 .8 -.4 .9 -.4 1 -.3 .9 -.4 .9 -.3 1 -.3 .9 -.2 1 -.4 .9 -.4 1 -.5 .8 -.7 .7 -.9 .5 -.9 .2 -1-.1 -.9-.4 -.8-.7 -.5-.8 -.3-1 -.1-1 .1-.9 .4-1 .7-.7 .9-.4 1 .1 .8 .5 .6 .8 .4 .9 .3 1 .4 .9 .4 .9 .3 1 .3 .9 .1 1 0 1 -.1 1 -.2 1 -.3 .9 -.4 1 -.4 .9 -.4 .9 -.3 .9 -.4 1 -.4 .9 -.4 .9 -.5 .9 -.4 .9 -.6 .8 -.7 .7 -.7 .6 -1 .3 -1-.1 -.9-.4 -.9-.5 -.8-.5 -.8-.7 -.7-.7 -.7-.7 -.5-.9 -.3-.9 -.2-1 -.1-1 -.1-1 0-1 .1-1 .2-1 .3-.9 .4-.9 .4-.9 .3-1 .1-1 -.2-1 -.5-.8 -.8-.6 -1-.3 -.9 .2 -.9 .5 -.7 .7 -.5 .9 -.5 .8 -.4 1 -.3 .9 -.4 .9 -.3 1 -.5 .9 -.7 .7 -.9 .4 -1 0 -1-.3 -.8-.5 -.8-.7 -.6-.7 -.5-.9 -.5-.9 -.4-.9 -.4-.9 -.3-1 -.1-1 0-1 .4-.9 .7-.8 .8-.5 1-.2 1 .1 .9 .3 .8 .6 .7 .7 .8 .7 .6 .7 .7 .8 .5 .8 .4 1 .2 .9 0 1 -.3 1 -.6 .8 -.8 .6 -.9 .4 -.9 .4 -1 .3 -1 .2 -1 .1 -1 0 -1 0 -.9 .1 -1 .1 -1 0 -1-.1 -1 0 -1-.1 -1-.3 -.8-.6 -.6-.8 -.2-.9 -.1-1 .1-1 .3-1 .3-1 .3-.9 .2-1 .1-1 .1-1 0-1 .1-1 .3-.9 .6-.8 .6-.8 .7-.7 .7-.8 .7-.6 1-.1 .8 .6 .3 .9 -.2 1 -.4 .9 -.6 .8 -.9 .6 -.9 .3 -1 0 -1-.1 -1-.3 -.9-.3 -.9-.3 -.9-.6 -.7-.7 -.4-.9 0-1 .4-.9 .6-.8 .7-.8 .8-.6 .9-.4 .9-.1 .9 .4 .6 .8 .3 1 .1 1 -.1 1 -.1 1 -.5 .8 -.7 .8 -.8 .6 -.9 .4 -.9 .4 -1 .2 -1 .2 -.9 .2 -1 .1 -1 .2 -1 .2 -.9 .3 -.9 .6 -.7 .6 -.7 .7 -.8 .7 -.6 .8 -.7 .7 -.7 .7 -.8 .5 -1 .2 -1-.3 -.9-.4 -.7-.7 -.5-.8 -.2-1 .2-1 .3-.9 .5-.9 .6-.8 .6-.8 .7-.8 .5-.8 .5-.8 .4-1 .3-.9 .3-1 .4-.9 .4-.9 .4-.9 .4-1 .3-.9 .4-.9 .5-.9 .6-.8 .7-.7 .7-.7 .6-.8 .3-1 -.1-1 -.5-.8 -.9-.4 -1-.3 -1-.1 -1-.1 -1 .1 -1 .1 -.9 .3 -1 .3 -.9 .5 -.8 .5 -.8 .6 -.7 .7 -.6 .8 -.4 .9 -.2 1 0 1 .1 1 .1 1 .2 1 .4 .9 .6 .8 .7 .7 .9 .5 1 .1 1-.1 .8-.6 .6-.8 .3-.9 -.1-1 -.6-.9 -.7-.6 -.8-.6 -.8-.6 -.7-.7 -.6-.9 -.4-.9 -.3-.9 -.2-1 0-1 .3-1 .2-.9 .4-1 .5-.8 .6-.9 .7-.7 .8-.5 .9-.5 .9-.4 .9-.4 .9-.5 .6-.8 .3-.9 -.1-1 -.5-.9 -.6-.8 -.7-.7 -.8-.7 -.8-.5 -.8-.6 -.8-.6 -.8-.6 -.9-.4 -1-.3 -1 0 -.9 .3 -1 .4 -.8 .5 -.7 .7 -.6 .8 -.3 1 -.1 1 .2 .9 .1 1 .3 1 .2 1 .3 .9 .3 1 .4 .9 .7 .7 .9 .5 .9 .2 1-.1 .9-.5 .7-.6 .6-.9 .2-1 .1-1 -.1-.9 -.1-1 -.1-1 -.3-1 -.4-.9 -.5-.9 -.5-.8 -.4-.9 -.4-1 -.3-.9 -.2-1 0-1 -.1-1 0-1 -.1-1 -.3-1 -.4-.9 -.7-.7 -1-.3 -.9 .2 -.7 .7 -.2 1 .3 .9 .7 .8 .8 .5 .9 .4 1 .2 1 .1 1-.2 .9-.4 .9-.5 .9-.5 .9-.3 1-.2 1 .1 .9 .3 .9 .3 1 .3 1 .2 1-.1 .7-.7 .2-1 -.1-1 -.4-.9 -.5-.8 -.6-.9 -.6-.8 -.5-.8 -.6-.8 -.7-.8 -.8-.5 -1-.2 -1 .2 -.8 .5 -.7 .8 -.4 .9 0 1 .5 .9 .6 .7 .8 .7 .9 .5 .8 .6 .8 .5 1 .3 1 0 .9-.3 .9-.6 .4-.8 .1-1 -.2-1 -.3-1 -.6-.8 -.8-.6 -.9-.2 -1-.1 -1 .1 -1 .2 -1 .2 -1 .2 -1 .1 -1-.1 -.9-.4 -.9-.4 -.8-.6 -.6-.8 -.3-.9 .1-1 .6-.8 .9-.5 .9-.4 .9-.3 1-.3 1-.1 1 0 1 0 1 0 1 .3 .8 .4 .8 .6 .8 .7 .9 .5 .9 .3 1-.2 .8-.5 .7-.7 .5-.9 .4-.9 .2-1 .2-1 .2-1 .1-1 0-1 -.2-1 -.4-.9 -.7-.7 -.8-.5 -1-.4 -.9 0 -1 .2 -1 .3 -.8 .6 -.8 .5 -.9 .5 -.9 .4 -1 .2 -1 .1 -1-.1 -1-.3 -.7-.6 -.5-.9 -.1-.9 .2-1 .7-.7 .9-.4 1-.1 1 .1 1 .2 .9 .4 1 .4 .8 .5 .9 .5 .8 .5 1 .4 1 .2 1 0 1 .1 1 0 .9-.1 .9-.5 .6-.8 .5-.9 .5-.9 .2-.9 .1-1 -.2-1 -.1-1 .2-1 .6-.8 .9-.5 1 0 .9 .3 .9 .5 .8 .5 .8 .6 .8 .7 .7 .7 .6 .8 .5 .9 0 1 -.2 .9 -.6 .8 -.9 .4 -1-.1 -.9-.4 -.8-.7 -.8-.6 -.8-.5 -.9-.5 -.9-.4 -.9-.4 -.9-.5 -.8-.6 -.6-.8 -.3-.9 .2-1 .6-.8 1-.3 1 .2 .9 .2 1 .4 .8 .5 .8 .6 .5 .8 .4 1 .3 .9 .4 .9 .6 .8 .8 .6 1 .4 1 .2 1 0 .9-.2 1-.2 1-.4 .9-.3 .9-.4 .9-.4 .9-.4 .9-.6 .7-.7 .6-.7 .5-.9 .4-.9 .2-1 -.2-1 -.4-.9 -.7-.7 -.9-.4 -1-.1 -.9 .3 -.9 .6 -.5 .8 -.3 .9 .1 1 .4 1 .7 .7 .9 .4 1 .1" fill="none" stroke="#f832f2" stroke-width="1.05" stroke-linejoin="round"/>
<ellipse cx="476" cy="150.2" rx="32.3" ry="29.5" fill="#ffff00"/>
<ellipse cx="461.5" cy="134.8" rx="1.6" ry="2.5" fill="#f00000"/>
<ellipse cx="484.4" cy="132.6" rx="1.6" ry="2.5" fill="#f00000"/>
<ellipse cx="474.5" cy="139.5" rx="1.6" ry="2.5" fill="#f00000"/>
<ellipse cx="497.6" cy="142.3" rx="1.6" ry="2.5" fill="#f00000"/>
<ellipse cx="484.4" cy="148.6" rx="1.6" ry="2.5" fill="#f00000"/>
<ellipse cx="458.2" cy="152.8" rx="1.6" ry="2.5" fill="#f00000"/>
<ellipse cx="501.7" cy="156.6" rx="1.6" ry="2.5" fill="#f00000"/>
<ellipse cx="473.4" cy="160.7" rx="1.6" ry="2.5" fill="#f00000"/>
<ellipse cx="484.4" cy="167.1" rx="1.6" ry="2.5" fill="#f00000"/>
<ellipse cx="463.2" cy="171.8" rx="1.6" ry="2.5" fill="#f00000"/>
<ellipse cx="503.1" cy="87.2" rx="1.6" ry="2.5" fill="#f00000"/>
<ellipse cx="475.3" cy="91.9" rx="1.6" ry="2.5" fill="#f00000"/>
<ellipse cx="444.4" cy="97.4" rx="1.6" ry="2.5" fill="#f00000"/>
<ellipse cx="516.9" cy="105.1" rx="1.6" ry="2.5" fill="#f00000"/>
<ellipse cx="426" cy="110.1" rx="1.6" ry="2.5" fill="#f00000"/>
<ellipse cx="491.8" cy="111.2" rx="1.6" ry="2.5" fill="#f00000"/>
<ellipse cx="419.6" cy="128.5" rx="1.6" ry="2.5" fill="#f00000"/>
<ellipse cx="439.8" cy="132.1" rx="1.6" ry="2.5" fill="#f00000"/>
<ellipse cx="417.7" cy="157.4" rx="1.6" ry="2.5" fill="#f00000"/>
<ellipse cx="523.5" cy="165.7" rx="1.6" ry="2.5" fill="#f00000"/>
<ellipse cx="442.5" cy="172.6" rx="1.6" ry="2.5" fill="#f00000"/>
<ellipse cx="462.3" cy="185.5" rx="1.6" ry="2.5" fill="#f00000"/>
<ellipse cx="493.2" cy="185.8" rx="1.6" ry="2.5" fill="#f00000"/>
<ellipse cx="525.7" cy="188.3" rx="1.6" ry="2.5" fill="#f00000"/>
<ellipse cx="422.4" cy="189.9" rx="1.6" ry="2.5" fill="#f00000"/>
<ellipse cx="513.9" cy="201.5" rx="1.6" ry="2.5" fill="#f00000"/>
<ellipse cx="453.5" cy="204.3" rx="1.6" ry="2.5" fill="#f00000"/>
<ellipse cx="483.6" cy="207.6" rx="1.6" ry="2.5" fill="#f00000"/>
<ellipse cx="532.8" cy="141.1" rx="1.6" ry="2.5" fill="#f00000"/>
<text x="39.4" y="233.6" font-family="'Liberation Serif', 'Times New Roman', serif" font-weight="bold" font-size="9.3" textLength="147.6" lengthAdjust="spacing" >PLGA-GC core-shell microspheres</text>
<text x="238.4" y="233.8" font-family="'Liberation Serif', 'Times New Roman', serif" font-weight="bold" font-size="9.3" textLength="91.4" lengthAdjust="spacing" >Rapid release of CHA</text>
<text x="422.9" y="233.2" font-family="'Liberation Serif', 'Times New Roman', serif" font-weight="bold" font-size="9.3" textLength="120.6" lengthAdjust="spacing" >Sustained&#160;release of proteins</text>
<polyline points="83.3,394.7 89.7,351.7 111.0,322.5 132.2,295.2 153.4,290.9 206.5,284.0 270.3,281.5" fill="none" stroke="#000" stroke-width="1.5" stroke-linejoin="round"/>
<path d="M83.3 389.0 V400.5 M80.7 389.0 H85.9 M80.7 400.5 H85.9" stroke="#000" stroke-width="1.3" fill="none"/>
<path d="M89.7 348.8 V354.6 M87.1 348.8 H92.3 M87.1 354.6 H92.3" stroke="#000" stroke-width="1.3" fill="none"/>
<path d="M111.0 313.8 V331.1 M108.4 313.8 H113.6 M108.4 331.1 H113.6" stroke="#000" stroke-width="1.3" fill="none"/>
<path d="M132.2 291.3 V299.0 M129.6 291.3 H134.8 M129.6 299.0 H134.8" stroke="#000" stroke-width="1.3" fill="none"/>
<path d="M153.4 286.1 V295.7 M150.8 286.1 H156.0 M150.8 295.7 H156.0" stroke="#000" stroke-width="1.3" fill="none"/>
<path d="M206.5 279.2 V288.8 M203.9 279.2 H209.1 M203.9 288.8 H209.1" stroke="#000" stroke-width="1.3" fill="none"/>
<path d="M270.3 274.2 V288.8 M267.7 274.2 H272.9 M267.7 288.8 H272.9" stroke="#000" stroke-width="1.3" fill="none"/>
<rect x="80.8" y="392.2" width="5.0" height="5.0" fill="#000"/>
<rect x="87.2" y="349.2" width="5.0" height="5.0" fill="#000"/>
<rect x="108.5" y="320.0" width="5.0" height="5.0" fill="#000"/>
<rect x="129.7" y="292.7" width="5.0" height="5.0" fill="#000"/>
<rect x="150.9" y="288.4" width="5.0" height="5.0" fill="#000"/>
<rect x="204.0" y="281.5" width="5.0" height="5.0" fill="#000"/>
<rect x="267.8" y="279.0" width="5.0" height="5.0" fill="#000"/>
<polyline points="83.3,399.9 89.7,363.4 111.0,326.5 132.2,303.4 153.4,293.4 206.5,288.4 270.3,285.9" fill="none" stroke="#ff0000" stroke-width="1.5" stroke-linejoin="round"/>
<path d="M83.3 394.2 V405.7 M80.7 394.2 H85.9 M80.7 405.7 H85.9" stroke="#ff0000" stroke-width="1.3" fill="none"/>
<path d="M89.7 359.6 V367.2 M87.1 359.6 H92.3 M87.1 367.2 H92.3" stroke="#ff0000" stroke-width="1.3" fill="none"/>
<path d="M111.0 320.7 V332.3 M108.4 320.7 H113.6 M108.4 332.3 H113.6" stroke="#ff0000" stroke-width="1.3" fill="none"/>
<path d="M132.2 298.6 V308.2 M129.6 298.6 H134.8 M129.6 308.2 H134.8" stroke="#ff0000" stroke-width="1.3" fill="none"/>
<path d="M153.4 289.6 V297.3 M150.8 289.6 H156.0 M150.8 297.3 H156.0" stroke="#ff0000" stroke-width="1.3" fill="none"/>
<path d="M206.5 285.5 V291.3 M203.9 285.5 H209.1 M203.9 291.3 H209.1" stroke="#ff0000" stroke-width="1.3" fill="none"/>
<path d="M270.3 282.1 V289.8 M267.7 282.1 H272.9 M267.7 289.8 H272.9" stroke="#ff0000" stroke-width="1.3" fill="none"/>
<circle cx="83.3" cy="399.9" r="2.9" fill="#ff0000"/>
<circle cx="89.7" cy="363.4" r="2.9" fill="#ff0000"/>
<circle cx="111.0" cy="326.5" r="2.9" fill="#ff0000"/>
<circle cx="132.2" cy="303.4" r="2.9" fill="#ff0000"/>
<circle cx="153.4" cy="293.4" r="2.9" fill="#ff0000"/>
<circle cx="206.5" cy="288.4" r="2.9" fill="#ff0000"/>
<circle cx="270.3" cy="285.9" r="2.9" fill="#ff0000"/>
<polyline points="83.3,414.0 89.7,371.3 111.0,341.9 132.2,320.9 153.4,305.0 206.5,294.6 270.3,287.5" fill="none" stroke="#0000ff" stroke-width="1.5" stroke-linejoin="round"/>
<path d="M83.3 411.1 V416.8 M80.7 411.1 H85.9 M80.7 416.8 H85.9" stroke="#0000ff" stroke-width="1.3" fill="none"/>
<path d="M89.7 366.5 V376.1 M87.1 366.5 H92.3 M87.1 376.1 H92.3" stroke="#0000ff" stroke-width="1.3" fill="none"/>
<path d="M111.0 337.1 V346.7 M108.4 337.1 H113.6 M108.4 346.7 H113.6" stroke="#0000ff" stroke-width="1.3" fill="none"/>
<path d="M132.2 314.2 V327.6 M129.6 314.2 H134.8 M129.6 327.6 H134.8" stroke="#0000ff" stroke-width="1.3" fill="none"/>
<path d="M153.4 299.2 V310.7 M150.8 299.2 H156.0 M150.8 310.7 H156.0" stroke="#0000ff" stroke-width="1.3" fill="none"/>
<path d="M206.5 288.8 V300.3 M203.9 288.8 H209.1 M203.9 300.3 H209.1" stroke="#0000ff" stroke-width="1.3" fill="none"/>
<path d="M270.3 283.6 V291.3 M267.7 283.6 H272.9 M267.7 291.3 H272.9" stroke="#0000ff" stroke-width="1.3" fill="none"/>
<path d="M83.3 410.0 L87.1 416.8 L79.5 416.8 Z" fill="#0000ff"/>
<path d="M89.7 367.3 L93.5 374.1 L85.9 374.1 Z" fill="#0000ff"/>
<path d="M111.0 337.9 L114.8 344.7 L107.2 344.7 Z" fill="#0000ff"/>
<path d="M132.2 316.9 L136.0 323.7 L128.4 323.7 Z" fill="#0000ff"/>
<path d="M153.4 301.0 L157.2 307.8 L149.6 307.8 Z" fill="#0000ff"/>
<path d="M206.5 290.6 L210.3 297.4 L202.7 297.4 Z" fill="#0000ff"/>
<path d="M270.3 283.5 L274.1 290.3 L266.5 290.3 Z" fill="#0000ff"/>
<rect x="79.1" y="271.7" width="201.8" height="163.4" fill="none" stroke="#000" stroke-width="1.6"/>
<path d="M73.8 425.5 H79.1" stroke="#000" stroke-width="1.4"/>
<text x="69.2" y="427.8" font-family="'Liberation Serif', 'Times New Roman', serif" font-weight="bold" font-size="8.8" text-anchor="end" textLength="7.7" lengthAdjust="spacingAndGlyphs">20</text>
<path d="M73.8 387.1 H79.1" stroke="#000" stroke-width="1.4"/>
<text x="69.2" y="389.4" font-family="'Liberation Serif', 'Times New Roman', serif" font-weight="bold" font-size="8.8" text-anchor="end" textLength="7.7" lengthAdjust="spacingAndGlyphs">40</text>
<path d="M73.8 348.6 H79.1" stroke="#000" stroke-width="1.4"/>
<text x="69.2" y="350.9" font-family="'Liberation Serif', 'Times New Roman', serif" font-weight="bold" font-size="8.8" text-anchor="end" textLength="7.7" lengthAdjust="spacingAndGlyphs">60</text>
<path d="M73.8 310.1 H79.1" stroke="#000" stroke-width="1.4"/>
<text x="69.2" y="312.4" font-family="'Liberation Serif', 'Times New Roman', serif" font-weight="bold" font-size="8.8" text-anchor="end" textLength="7.7" lengthAdjust="spacingAndGlyphs">80</text>
<path d="M73.8 271.7 H79.1" stroke="#000" stroke-width="1.4"/>
<text x="69.2" y="274.0" font-family="'Liberation Serif', 'Times New Roman', serif" font-weight="bold" font-size="8.8" text-anchor="end" textLength="11.6" lengthAdjust="spacingAndGlyphs">100</text>
<path d="M76.1 406.3 H79.1" stroke="#000" stroke-width="1.4"/>
<path d="M76.1 367.8 H79.1" stroke="#000" stroke-width="1.4"/>
<path d="M76.1 329.4 H79.1" stroke="#000" stroke-width="1.4"/>
<path d="M76.1 290.9 H79.1" stroke="#000" stroke-width="1.4"/>
<path d="M79.1 435.1 V441.7" stroke="#000" stroke-width="1.4"/>
<text x="79.1" y="453.0" font-family="'Liberation Serif', 'Times New Roman', serif" font-weight="bold" font-size="8.8" text-anchor="middle" textLength="4.0" lengthAdjust="spacingAndGlyphs">0</text>
<path d="M111.0 435.1 V441.7" stroke="#000" stroke-width="1.4"/>
<text x="111.0" y="453.0" font-family="'Liberation Serif', 'Times New Roman', serif" font-weight="bold" font-size="8.8" text-anchor="middle" textLength="4.0" lengthAdjust="spacingAndGlyphs">3</text>
<path d="M142.8 435.1 V441.7" stroke="#000" stroke-width="1.4"/>
<text x="142.8" y="453.0" font-family="'Liberation Serif', 'Times New Roman', serif" font-weight="bold" font-size="8.8" text-anchor="middle" textLength="4.0" lengthAdjust="spacingAndGlyphs">6</text>
<path d="M174.7 435.1 V441.7" stroke="#000" stroke-width="1.4"/>
<text x="174.7" y="453.0" font-family="'Liberation Serif', 'Times New Roman', serif" font-weight="bold" font-size="8.8" text-anchor="middle" textLength="4.0" lengthAdjust="spacingAndGlyphs">9</text>
<path d="M206.5 435.1 V441.7" stroke="#000" stroke-width="1.4"/>
<text x="206.5" y="453.0" font-family="'Liberation Serif', 'Times New Roman', serif" font-weight="bold" font-size="8.8" text-anchor="middle" textLength="8.0" lengthAdjust="spacingAndGlyphs">12</text>
<path d="M238.4 435.1 V441.7" stroke="#000" stroke-width="1.4"/>
<text x="238.4" y="453.0" font-family="'Liberation Serif', 'Times New Roman', serif" font-weight="bold" font-size="8.8" text-anchor="middle" textLength="8.0" lengthAdjust="spacingAndGlyphs">15</text>
<path d="M270.3 435.1 V441.7" stroke="#000" stroke-width="1.4"/>
<text x="270.3" y="453.0" font-family="'Liberation Serif', 'Times New Roman', serif" font-weight="bold" font-size="8.8" text-anchor="middle" textLength="8.0" lengthAdjust="spacingAndGlyphs">18</text>
<path d="M95.0 435.1 V438.7" stroke="#000" stroke-width="1.4"/>
<path d="M126.9 435.1 V438.7" stroke="#000" stroke-width="1.4"/>
<path d="M158.8 435.1 V438.7" stroke="#000" stroke-width="1.4"/>
<path d="M190.6 435.1 V438.7" stroke="#000" stroke-width="1.4"/>
<path d="M222.5 435.1 V438.7" stroke="#000" stroke-width="1.4"/>
<path d="M254.3 435.1 V438.7" stroke="#000" stroke-width="1.4"/>
<path d="M181.0 374.2 H197.8" stroke="#000" stroke-width="1.5"/>
<rect x="187.1" y="372.1" width="4.2" height="4.2" fill="#000"/>
<text x="199.3" y="377.2" font-family="'Liberation Serif', 'Times New Roman', serif" font-weight="bold" font-size="8.9" textLength="66.7" lengthAdjust="spacing">PLGA-GC (0.2% )</text>
<path d="M181.0 386.0 H197.8" stroke="#ff0000" stroke-width="1.5"/>
<circle cx="189.2" cy="386.0" r="2.5" fill="#ff0000"/>
<text x="199.3" y="389.0" font-family="'Liberation Serif', 'Times New Roman', serif" font-weight="bold" font-size="8.9" textLength="64.7" lengthAdjust="spacing">PLGA-GC(0.5% )</text>
<path d="M181.0 397.8 H197.8" stroke="#0000ff" stroke-width="1.5"/>
<path d="M189.2 394.4 L192.4 400.2 L186.0 400.2 Z" fill="#0000ff"/>
<text x="199.3" y="400.8" font-family="'Liberation Serif', 'Times New Roman', serif" font-weight="bold" font-size="8.9" textLength="69.7" lengthAdjust="spacing">PLGA-GC(0.75% )</text>
<text x="37.6" y="274.4" font-family="'Liberation Serif', 'Times New Roman', serif" font-weight="bold" font-size="14.8" >a</text>
<text x="0" y="0" font-family="'Liberation Serif', 'Times New Roman', serif" font-weight="bold" font-size="11.6" fill="#1a1a1a" text-anchor="middle" textLength="125" lengthAdjust="spacingAndGlyphs" transform="translate(50.4 359.5) rotate(-90)">Cumlative release (%)</text>
<text x="159.3" y="473" font-family="'Liberation Serif', 'Times New Roman', serif" font-weight="bold" font-size="11.5" textLength="41.4" lengthAdjust="spacingAndGlyphs" >Time (d)</text>
<polyline points="337.2,396.3 344.4,385.6 365.8,359.3 387.2,338.8 408.6,320.9 462.1,300.2 526.3,290.4" fill="none" stroke="#00e8e8" stroke-width="1.5" stroke-linejoin="round"/>
<path d="M337.2 392.5 V400.2 M334.6 392.5 H339.8 M334.6 400.2 H339.8" stroke="#00e8e8" stroke-width="1.3" fill="none"/>
<path d="M344.4 381.8 V389.4 M341.8 381.8 H347.0 M341.8 389.4 H347.0" stroke="#00e8e8" stroke-width="1.3" fill="none"/>
<path d="M365.8 355.4 V363.1 M363.2 355.4 H368.4 M363.2 363.1 H368.4" stroke="#00e8e8" stroke-width="1.3" fill="none"/>
<path d="M387.2 334.9 V342.6 M384.6 334.9 H389.8 M384.6 342.6 H389.8" stroke="#00e8e8" stroke-width="1.3" fill="none"/>
<path d="M408.6 318.3 V323.4 M406.0 318.3 H411.2 M406.0 323.4 H411.2" stroke="#00e8e8" stroke-width="1.3" fill="none"/>
<path d="M462.1 296.3 V304.0 M459.5 296.3 H464.7 M459.5 304.0 H464.7" stroke="#00e8e8" stroke-width="1.3" fill="none"/>
<path d="M526.3 286.6 V294.3 M523.7 286.6 H528.9 M523.7 294.3 H528.9" stroke="#00e8e8" stroke-width="1.3" fill="none"/>
<path d="M337.2 393.2 L340.3 396.3 L337.2 399.4 L334.1 396.3 Z" fill="#fff" stroke="#00e8e8" stroke-width="1.3"/>
<path d="M344.4 382.5 L347.5 385.6 L344.4 388.7 L341.3 385.6 Z" fill="#fff" stroke="#00e8e8" stroke-width="1.3"/>
<path d="M365.8 356.2 L368.9 359.3 L365.8 362.4 L362.7 359.3 Z" fill="#fff" stroke="#00e8e8" stroke-width="1.3"/>
<path d="M387.2 335.7 L390.3 338.8 L387.2 341.9 L384.1 338.8 Z" fill="#fff" stroke="#00e8e8" stroke-width="1.3"/>
<path d="M408.6 317.8 L411.7 320.9 L408.6 324.0 L405.5 320.9 Z" fill="#fff" stroke="#00e8e8" stroke-width="1.3"/>
<path d="M462.1 297.1 L465.2 300.2 L462.1 303.3 L459.0 300.2 Z" fill="#fff" stroke="#00e8e8" stroke-width="1.3"/>
<path d="M526.3 287.3 L529.4 290.4 L526.3 293.5 L523.2 290.4 Z" fill="#fff" stroke="#00e8e8" stroke-width="1.3"/>
<polyline points="337.2,405.3 344.4,392.0 365.8,366.7 387.2,342.9 408.6,321.4 462.1,301.4 526.3,287.6" fill="none" stroke="#000" stroke-width="1.5" stroke-linejoin="round"/>
<path d="M337.2 400.2 V410.4 M334.6 400.2 H339.8 M334.6 410.4 H339.8" stroke="#000" stroke-width="1.3" fill="none"/>
<path d="M344.4 388.2 V395.8 M341.8 388.2 H347.0 M341.8 395.8 H347.0" stroke="#000" stroke-width="1.3" fill="none"/>
<path d="M365.8 361.6 V371.8 M363.2 361.6 H368.4 M363.2 371.8 H368.4" stroke="#000" stroke-width="1.3" fill="none"/>
<path d="M387.2 339.0 V346.7 M384.6 339.0 H389.8 M384.6 346.7 H389.8" stroke="#000" stroke-width="1.3" fill="none"/>
<path d="M408.6 318.8 V324.0 M406.0 318.8 H411.2 M406.0 324.0 H411.2" stroke="#000" stroke-width="1.3" fill="none"/>
<path d="M462.1 297.6 V305.3 M459.5 297.6 H464.7 M459.5 305.3 H464.7" stroke="#000" stroke-width="1.3" fill="none"/>
<path d="M526.3 283.8 V291.5 M523.7 283.8 H528.9 M523.7 291.5 H528.9" stroke="#000" stroke-width="1.3" fill="none"/>
<rect x="334.7" y="402.8" width="5.0" height="5.0" fill="#000"/>
<rect x="341.9" y="389.5" width="5.0" height="5.0" fill="#000"/>
<rect x="363.3" y="364.2" width="5.0" height="5.0" fill="#000"/>
<rect x="384.7" y="340.4" width="5.0" height="5.0" fill="#000"/>
<rect x="406.1" y="318.9" width="5.0" height="5.0" fill="#000"/>
<rect x="459.6" y="298.9" width="5.0" height="5.0" fill="#000"/>
<rect x="523.8" y="285.1" width="5.0" height="5.0" fill="#000"/>
<polyline points="337.2,416.8 344.4,408.6 365.8,378.7 387.2,357.2 408.6,331.4 462.1,311.2 526.3,296.8" fill="none" stroke="#ff0000" stroke-width="1.5" stroke-linejoin="round"/>
<path d="M337.2 411.7 V421.9 M334.6 411.7 H339.8 M334.6 421.9 H339.8" stroke="#ff0000" stroke-width="1.3" fill="none"/>
<path d="M344.4 404.8 V412.5 M341.8 404.8 H347.0 M341.8 412.5 H347.0" stroke="#ff0000" stroke-width="1.3" fill="none"/>
<path d="M365.8 373.6 V383.8 M363.2 373.6 H368.4 M363.2 383.8 H368.4" stroke="#ff0000" stroke-width="1.3" fill="none"/>
<path d="M387.2 353.4 V361.0 M384.6 353.4 H389.8 M384.6 361.0 H389.8" stroke="#ff0000" stroke-width="1.3" fill="none"/>
<path d="M408.6 326.3 V336.5 M406.0 326.3 H411.2 M406.0 336.5 H411.2" stroke="#ff0000" stroke-width="1.3" fill="none"/>
<path d="M462.1 307.3 V315.0 M459.5 307.3 H464.7 M459.5 315.0 H464.7" stroke="#ff0000" stroke-width="1.3" fill="none"/>
<path d="M526.3 293.0 V300.7 M523.7 293.0 H528.9 M523.7 300.7 H528.9" stroke="#ff0000" stroke-width="1.3" fill="none"/>
<circle cx="337.2" cy="416.8" r="2.9" fill="#ff0000"/>
<circle cx="344.4" cy="408.6" r="2.9" fill="#ff0000"/>
<circle cx="365.8" cy="378.7" r="2.9" fill="#ff0000"/>
<circle cx="387.2" cy="357.2" r="2.9" fill="#ff0000"/>
<circle cx="408.6" cy="331.4" r="2.9" fill="#ff0000"/>
<circle cx="462.1" cy="311.2" r="2.9" fill="#ff0000"/>
<circle cx="526.3" cy="296.8" r="2.9" fill="#ff0000"/>
<polyline points="337.2,423.7 344.4,410.7 365.8,386.4 387.2,363.6 408.6,336.7 462.1,317.8 526.3,299.4" fill="none" stroke="#0000ff" stroke-width="1.5" stroke-linejoin="round"/>
<path d="M337.2 418.6 V428.8 M334.6 418.6 H339.8 M334.6 428.8 H339.8" stroke="#0000ff" stroke-width="1.3" fill="none"/>
<path d="M344.4 405.6 V415.8 M341.8 405.6 H347.0 M341.8 415.8 H347.0" stroke="#0000ff" stroke-width="1.3" fill="none"/>
<path d="M365.8 382.5 V390.2 M363.2 382.5 H368.4 M363.2 390.2 H368.4" stroke="#0000ff" stroke-width="1.3" fill="none"/>
<path d="M387.2 359.8 V367.4 M384.6 359.8 H389.8 M384.6 367.4 H389.8" stroke="#0000ff" stroke-width="1.3" fill="none"/>
<path d="M408.6 331.6 V341.9 M406.0 331.6 H411.2 M406.0 341.9 H411.2" stroke="#0000ff" stroke-width="1.3" fill="none"/>
<path d="M462.1 314.0 V321.6 M459.5 314.0 H464.7 M459.5 321.6 H464.7" stroke="#0000ff" stroke-width="1.3" fill="none"/>
<path d="M526.3 294.3 V304.5 M523.7 294.3 H528.9 M523.7 304.5 H528.9" stroke="#0000ff" stroke-width="1.3" fill="none"/>
<path d="M337.2 419.7 L341.0 426.5 L333.4 426.5 Z" fill="#0000ff"/>
<path d="M344.4 406.7 L348.2 413.5 L340.6 413.5 Z" fill="#0000ff"/>
<path d="M365.8 382.4 L369.6 389.2 L362.0 389.2 Z" fill="#0000ff"/>
<path d="M387.2 359.6 L391.0 366.4 L383.4 366.4 Z" fill="#0000ff"/>
<path d="M408.6 332.7 L412.4 339.5 L404.8 339.5 Z" fill="#0000ff"/>
<path d="M462.1 313.8 L465.9 320.6 L458.3 320.6 Z" fill="#0000ff"/>
<path d="M526.3 295.4 L530.1 302.2 L522.5 302.2 Z" fill="#0000ff"/>
<rect x="333.7" y="271.0" width="203.3" height="166.3" fill="none" stroke="#000" stroke-width="1.6"/>
<path d="M328.4 424.5 H333.7" stroke="#000" stroke-width="1.4"/>
<text x="323.8" y="426.8" font-family="'Liberation Serif', 'Times New Roman', serif" font-weight="bold" font-size="8.8" text-anchor="end" textLength="7.7" lengthAdjust="spacingAndGlyphs">20</text>
<path d="M328.4 373.3 H333.7" stroke="#000" stroke-width="1.4"/>
<text x="323.8" y="375.6" font-family="'Liberation Serif', 'Times New Roman', serif" font-weight="bold" font-size="8.8" text-anchor="end" textLength="7.7" lengthAdjust="spacingAndGlyphs">40</text>
<path d="M328.4 322.2 H333.7" stroke="#000" stroke-width="1.4"/>
<text x="323.8" y="324.5" font-family="'Liberation Serif', 'Times New Roman', serif" font-weight="bold" font-size="8.8" text-anchor="end" textLength="7.7" lengthAdjust="spacingAndGlyphs">60</text>
<path d="M328.4 271.0 H333.7" stroke="#000" stroke-width="1.4"/>
<text x="323.8" y="273.3" font-family="'Liberation Serif', 'Times New Roman', serif" font-weight="bold" font-size="8.8" text-anchor="end" textLength="7.7" lengthAdjust="spacingAndGlyphs">80</text>
<path d="M330.7 398.9 H333.7" stroke="#000" stroke-width="1.4"/>
<path d="M330.7 347.7 H333.7" stroke="#000" stroke-width="1.4"/>
<path d="M330.7 296.6 H333.7" stroke="#000" stroke-width="1.4"/>
<path d="M333.7 437.3 V443.9" stroke="#000" stroke-width="1.4"/>
<text x="333.7" y="455.2" font-family="'Liberation Serif', 'Times New Roman', serif" font-weight="bold" font-size="8.8" text-anchor="middle" textLength="4.0" lengthAdjust="spacingAndGlyphs">0</text>
<path d="M365.8 437.3 V443.9" stroke="#000" stroke-width="1.4"/>
<text x="365.8" y="455.2" font-family="'Liberation Serif', 'Times New Roman', serif" font-weight="bold" font-size="8.8" text-anchor="middle" textLength="4.0" lengthAdjust="spacingAndGlyphs">3</text>
<path d="M397.9 437.3 V443.9" stroke="#000" stroke-width="1.4"/>
<text x="397.9" y="455.2" font-family="'Liberation Serif', 'Times New Roman', serif" font-weight="bold" font-size="8.8" text-anchor="middle" textLength="4.0" lengthAdjust="spacingAndGlyphs">6</text>
<path d="M430.0 437.3 V443.9" stroke="#000" stroke-width="1.4"/>
<text x="430.0" y="455.2" font-family="'Liberation Serif', 'Times New Roman', serif" font-weight="bold" font-size="8.8" text-anchor="middle" textLength="4.0" lengthAdjust="spacingAndGlyphs">9</text>
<path d="M462.1 437.3 V443.9" stroke="#000" stroke-width="1.4"/>
<text x="462.1" y="455.2" font-family="'Liberation Serif', 'Times New Roman', serif" font-weight="bold" font-size="8.8" text-anchor="middle" textLength="8.0" lengthAdjust="spacingAndGlyphs">12</text>
<path d="M494.2 437.3 V443.9" stroke="#000" stroke-width="1.4"/>
<text x="494.2" y="455.2" font-family="'Liberation Serif', 'Times New Roman', serif" font-weight="bold" font-size="8.8" text-anchor="middle" textLength="8.0" lengthAdjust="spacingAndGlyphs">15</text>
<path d="M526.3 437.3 V443.9" stroke="#000" stroke-width="1.4"/>
<text x="526.3" y="455.2" font-family="'Liberation Serif', 'Times New Roman', serif" font-weight="bold" font-size="8.8" text-anchor="middle" textLength="8.0" lengthAdjust="spacingAndGlyphs">18</text>
<path d="M349.8 437.3 V440.9" stroke="#000" stroke-width="1.4"/>
<path d="M381.8 437.3 V440.9" stroke="#000" stroke-width="1.4"/>
<path d="M413.9 437.3 V440.9" stroke="#000" stroke-width="1.4"/>
<path d="M446.0 437.3 V440.9" stroke="#000" stroke-width="1.4"/>
<path d="M478.1 437.3 V440.9" stroke="#000" stroke-width="1.4"/>
<path d="M510.2 437.3 V440.9" stroke="#000" stroke-width="1.4"/>
<path d="M435.5 372.3 H452.3" stroke="#00e8e8" stroke-width="1.5"/>
<path d="M443.7 368.1 L447.9 372.3 L443.7 376.5 L439.5 372.3 Z" fill="#fff" stroke="#00e8e8" stroke-width="1.3"/>
<text x="453.8" y="375.3" font-family="'Liberation Serif', 'Times New Roman', serif" font-weight="bold" font-size="8.9" textLength="23.8" lengthAdjust="spacing">PLGA</text>
<path d="M435.5 384.4 H452.3" stroke="#000" stroke-width="1.5"/>
<rect x="441.6" y="382.3" width="4.2" height="4.2" fill="#000"/>
<text x="453.8" y="387.4" font-family="'Liberation Serif', 'Times New Roman', serif" font-weight="bold" font-size="8.9" textLength="68.3" lengthAdjust="spacing">PLGA-GC (0.2% )</text>
<path d="M435.5 396.5 H452.3" stroke="#ff0000" stroke-width="1.5"/>
<circle cx="443.7" cy="396.5" r="2.5" fill="#ff0000"/>
<text x="453.8" y="399.5" font-family="'Liberation Serif', 'Times New Roman', serif" font-weight="bold" font-size="8.9" textLength="68.3" lengthAdjust="spacing">PLGA-GC (0.5% )</text>
<path d="M435.5 408.6 H452.3" stroke="#0000ff" stroke-width="1.5"/>
<path d="M443.7 405.2 L446.9 411.0 L440.5 411.0 Z" fill="#0000ff"/>
<text x="453.8" y="411.6" font-family="'Liberation Serif', 'Times New Roman', serif" font-weight="bold" font-size="8.9" textLength="72.6" lengthAdjust="spacing">PLGA-GC (0.75% )</text>
<text x="294.6" y="274.6" font-family="'Liberation Serif', 'Times New Roman', serif" font-weight="bold" font-size="14.8" >b</text>
<text x="0" y="0" font-family="'Liberation Serif', 'Times New Roman', serif" font-weight="bold" font-size="11.6" fill="#1a1a1a" text-anchor="middle" textLength="133" lengthAdjust="spacingAndGlyphs" transform="translate(308.4 362.7) rotate(-90)">Cumlative release (%)</text>
<text x="414.2" y="476.4" font-family="'Liberation Serif', 'Times New Roman', serif" font-weight="bold" font-size="11.5" textLength="42.6" lengthAdjust="spacingAndGlyphs" >Time (d)</text>
</svg></body></html>
